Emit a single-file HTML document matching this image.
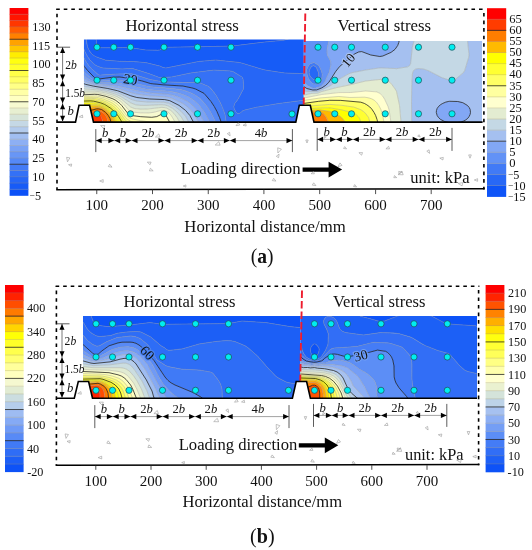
<!DOCTYPE html>
<html lang="en"><head><meta charset="utf-8"><title>Stress contours</title>
<style>html,body{margin:0;padding:0;background:#fff}svg{display:block}</style></head>
<body>
<svg width="532" height="550" viewBox="0 0 532 550">
<rect width="532" height="550" fill="#fff"/>
<filter id="soft" x="-2%" y="-5%" width="104%" height="110%"><feGaussianBlur stdDeviation="0.45"/></filter>
<clipPath id="clip_a"><path d="M83.8,39.4 L482.2,39.4 L482.2,122.3 L314,122.3 L310.3,105.3 L299.3,105.3 L295.8,122.3 L93.5,122.3 L89.6,105.3 L83.8,105.3Z"/></clipPath>
<g clip-path="url(#clip_a)" filter="url(#soft)">
<clipPath id="clip_aL"><rect x="83.8" y="38.4" width="220.0" height="84.9"/></clipPath>
<g clip-path="url(#clip_aL)">
<path d="M95.8 37.4l198.9 0l-10.9 2.8l-19 1.8l-33 4.1l-66 1.2l-2 0.4l-4 2.3l-2 0.2l-12-0.2l-16-2.5l-31 0.3l-1.3-0.4l-0.9-1l-0.3-6l-0.7-3z" fill="#0c51f7" stroke="#0c51f7" stroke-width="0.4" fill-rule="evenodd"/>
<path d="M86.8 37.4l8.8 0l0.7 3l0.3 6l0.9 1l1.3 0.4l31-0.3l16 2.5l12 0.2l2-0.2l4-2.3l2-0.4l66-1.2l33-4.1l19-1.8l10.9-2.8l11.1 0l0 36.3l-2 0l-19-0.7l-18-2.7l-3-0.6l-24-7.2l-24-2.5l-17 1.4l-33 6.6l-2.8-0.6l-3.2-1.4l-14-3.4l-12-1l-14-0.3l-14-1.1l-10-3.5l-2.2-1.3l-2.3-2l-2.5-3.7l-1.4-3.3l-1.4-9z" fill="#175bf7" stroke="#175bf7" stroke-width="0.4" fill-rule="evenodd"/>
<path d="M82.8 37.4l3.2 0l0.9 7l0.9 3l2 4l2 2.5l4 2.8l10 3.5l14 1.1l14 0.3l12 1l14 3.4l3.2 1.4l2.8 0.6l33-6.6l17-1.4l24 2.5l24 7.2l3 0.6l18 2.7l21 0.7l0 26.2l-27 3.6l-23.3 3.9l-11.7 2.9l-1 0.5l-2 1.9l-2 0.8l-2-0.6l-1-1.2l-1.7-3.3l-0.3-2l1-2.9l3.1-4.1l5.3-10l0.5-2l-0.6-8l-0.3-1.1l-1-1.4l-8-5l-3-0.9l-17-0.9l-23 2.8l-19 4l-11 0.8l-2-0.4l-10-3.7l-16-5l-3-0.2l-7 0.5l-5-0.1l-13-0.5l-3-0.5l-4-1.5l-3.4-1.9l-3.6-3.6l-3-3.8l-2.9-5.6l-2.4-6l-0.7-2.8l0-5.2z" fill="#2666f6" stroke="#2666f6" stroke-width="0.4" fill-rule="evenodd"/>
<path d="M82 43.4l1.1 4l2.3 5l2.4 4.6l2 2.7l5 5l4 2.1l4 1.2l18 0.9l9-0.5l3 0.2l16 5l10 3.7l2 0.4l11-0.8l19-4l23-2.8l16 0.8l3 0.5l8.4 5l1.1 1l0.8 2l0.6 8l-0.5 2l-5.3 10l-3.1 4.1l-1 2.9l0.3 2l1.7 3.3l1 1.2l1 0.5l2-0.1l3-2.5l1-0.5l12-3l23-3.8l27-3.6l0 23.5l-78.8 0l-0.9-2l-1.1-7l-4.3-11l-4.9-8.7l-4.9-6.3l-2.1-1.8l-10-4.1l-22-0.2l-13-0.4l-3-0.4l-10.8-2.1l-18.2-5.6l-16 0.3l-15 1l-2-0.2l-1-0.6l-6-5.5l-3.1-3.4l-2.1-3l-4.8-8.3l0-11.5z" fill="#3471f6" stroke="#3471f6" stroke-width="0.4" fill-rule="evenodd"/>
<path d="M82 54.4l4.6 8l2.1 3l3.1 3.4l6 5.5l1 0.6l2 0.2l15-1l16-0.3l18.2 5.6l12.8 2.4l20 0.7l16 0l9 3.6l2 1.2l5.8 7.1l1.9 3l3.7 7l2.1 5l2 6l0.8 6l0.9 2l-5.4 0l-2.1-6l-2.7-6.2l-2.6-4.8l-3.3-5l-6.8-8l-7.6-4l-2.7-1.1l-11-2.3l-19-1.1l-13-1.3l-9-2.7l-9-2.1l-13-1.8l-7 0.2l-13 1.7l-3 0l-1.2-0.5l-2.4-2l-6.6-7l-3.1-4l-1.7-3l0-8.3z" fill="#437bf6" stroke="#437bf6" stroke-width="0.4" fill-rule="evenodd"/>
<path d="M81.8 62.4l2.4 4l3.3 4l6.8 7l2.5 1.5l3 0l13-1.7l7-0.2l13 1.8l9 2.1l9 2.7l13 1.3l19 1.1l12 2.6l8 4l2 1.5l6.1 7.3l5 8l3.6 8l2.1 6l-5.3 0l-5.4-11l-5.4-8l-5.7-6.1l-4-2.8l-4-2.3l-6-2.3l-5-1.3l-11-1.3l-20-1.5l-30-6.7l-7-0.1l-13 1l-4-0.4l-2.6-1.2l-4-3l-4.5-4l-2.9-3.1l0-6.9z" fill="#5589f6" stroke="#5589f6" stroke-width="0.4" fill-rule="evenodd"/>
<path d="M81.9 69.4l7.3 7l4 3l2.6 1.2l4 0.4l13-1l7 0.1l30 6.7l21 1.6l11 1.4l8 2.6l5 2.4l5.1 3.6l4.8 5l3.1 4l3 4.9l5.5 11.1l-5.8 0l-6-11l-5.7-7.6l-3-2.9l-3.3-2.5l-3.7-2.3l-4-1.9l-5-1.8l-6-1.4l-7-1l-19-1.4l-29-6.5l-6-0.4l-13 0l-4-0.5l-2.3-0.8l-3.9-2l-4.6-3l-3.2-2.5l0-4.6z" fill="#6896f6" stroke="#6896f6" stroke-width="0.4" fill-rule="evenodd"/>
<path d="M82.4 74.4l7.2 5l3.9 2l3.3 1l4 0.3l13 0l5 0.4l29 6.5l20 1.5l10 1.8l5 1.5l5 2.2l4 2.3l4 3l3.5 3.5l3.9 5l3.6 5.9l3.7 7.1l-5.6 0l-6.4-11l-4.7-5.7l-6-4.9l-8-4.2l-6-2.1l-5-1.1l-18-1.4l-12-1.9l-21-5.2l-22-2.2l-8-3l-6-3.3l0-3.5z" fill="#7aa2f5" stroke="#7aa2f5" stroke-width="0.4" fill-rule="evenodd"/>
<path d="M81.8 77.4l7.5 4l4.5 1.7l3 0.8l13 1l8 1l17 4.4l12 2.2l6 0.7l13 0.8l5 0.8l5 1.4l5 1.9l4 1.9l3.9 2.4l4.8 4l3.5 4l3.4 5l4.5 8l-5.5 0l-5.8-10l-4.3-5l-6.7-5l-9.8-4.7l-4-1.3l-3-0.5l-15-0.9l-13-1.7l-6-1.4l-13-4.2l-10-1.9l-14-1.9l-8.2-2.5l-4.8-2.1l0-2.9z" fill="#8daff4" stroke="#8daff4" stroke-width="0.4" fill-rule="evenodd"/>
<path d="M81.9 80.4l4.7 2l8.2 2.5l14 1.9l10 1.9l12 3.9l6 1.5l13 1.8l15 0.9l4 0.6l5 1.7l7 3.3l4 2.4l4 3.1l3 3.1l2.5 3.4l5.1 9l-5.2 0l-4.4-8l-4.3-5l-6.5-5l-9.2-4.7l-4-1l-16-0.7l-14-1.7l-5-1.5l-13-5l-9-2.1l-14-2.3l-10-2.3l-3-1.1l0-2.7z" fill="#a1bef1" stroke="#a1bef1" stroke-width="0.4" fill-rule="evenodd"/>
<path d="M82.7 83.4l11.1 2.8l14 2.3l10 2.3l13 5l6 1.7l13 1.5l16 0.7l5 1.4l10 5.5l4 3.1l3.6 3.7l2.1 3l3.7 7l-4.7 0l-3.9-7l-4.4-5l-5.4-4.3l-7-3.8l-5-1.1l-16-0.2l-8-0.5l-4-0.6l-4-1.3l-11-5.5l-5-1.8l-10-2.5l-19-2.9l-4-1l-1-0.3l0-2.6z" fill="#b3cbec" stroke="#b3cbec" stroke-width="0.4" fill-rule="evenodd"/>
<path d="M82.8 85.9l4 1l19 2.9l10 2.5l5 1.8l11 5.5l5 1.5l11 0.9l16 0.2l4 0.8l4 1.7l5 3.1l4 3.2l3.2 3.4l2.8 3.9l2.7 5.1l-4.5 0l-3.5-6l-4.1-5l-4.7-4l-4.9-2.6l-5-1l-18 0.6l-6-0.2l-4-0.7l-4-1.6l-9-5.9l-6-2.8l-8-2.4l-6-1.2l-6-0.9l-12-1.1l-2-0.5l0-2.5z" fill="#c5d8e5" stroke="#c5d8e5" stroke-width="0.4" fill-rule="evenodd"/>
<path d="M82.8 88.4l3 0.6l9 0.6l5.9 0.8l6.1 1.2l6.4 1.8l6.6 2.5l11 7l5 1.9l4 0.5l6 0.1l16-0.7l5 0.7l4 1.8l3.2 2.2l3.4 3l2.7 3l2.7 4l2.2 4l-4.5 0l-3.5-6l-3.1-4l-3.2-3l-3.9-2.2l-2-0.6l-3-0.2l-15 1.7l-8-0.1l-5-0.7l-2-0.7l-2-1.2l-5.6-5l-3.4-2.5l-6-3.1l-8-2.6l-8-1.6l-15-0.7l-2-0.5l0-2.3z" fill="#d6e4d9" stroke="#d6e4d9" stroke-width="0.4" fill-rule="evenodd"/>
<path d="M81.9 90.4l3.9 0.8l9 0l4 0.4l8 1.6l7 2.2l4 1.7l3.8 2.3l9.2 7.7l4 1.5l5 0.4l6 0.1l6-0.4l9-1.3l5 0.5l3 1.2l3.1 2.3l2.9 3l2.8 4l2.9 5l-4.8 0l-3.3-6l-2-3l-1.9-2l-2.7-1.6l-2-0.5l-2-0.1l-8 2.1l-5 0.6l-8-0.1l-9-0.9l-3-1.8l-5.9-6.7l-2.1-1.9l-3-2.2l-3.6-1.9l-7.4-2.5l-8-1.8l-4-0.3l-8 0.3l-3-0.2l-2-0.5l0-2z" fill="#e7efd1" stroke="#e7efd1" stroke-width="0.4" fill-rule="evenodd"/>
<path d="M82.8 92.7l3 0.4l9-0.3l4 0.3l7 1.5l8 2.6l3 1.5l3.9 2.7l2.2 2l5.9 6.7l2 1.5l2 0.6l8 0.6l7 0.1l6-0.6l8-2.1l3 0.2l2 0.8l2 1.5l2.3 2.7l4.6 8l-5.4 0l-4.3-8l-1.2-1.2l-1-0.4l-2 0.3l-5 2.5l-5 0.7l-11-0.6l-10-1.3l-2-1l-1-1l-6-7.8l-2-2.1l-6-4.3l-8-2.9l-8-1.8l-3-0.2l-9 0.4l-3-0.3l-1-0.2l0-1.8z" fill="#f7fad0" stroke="#f7fad0" stroke-width="0.4" fill-rule="evenodd"/>
<path d="M82.8 94.4l3 0.3l9-0.4l3 0.2l8 1.8l8 2.9l6 4.3l2 2.1l6 7.8l1 1l2 1l10 1.3l11 0.6l5.5-0.9l5.5-2.6l1 0l1 0.4l1.9 2.2l3.6 7l-8.8 0l-2.7-0.7l-9-0.7l-9-1.3l-8-1.7l-3-1l-2-1.3l-2-2.1l-7-9.1l-3.8-3.1l-3.2-1.9l-6-2.4l-6-1.7l-5-0.6l-12 0l-1-0.1l0-1.5z" fill="#ffffc2" stroke="#ffffc2" stroke-width="0.4" fill-rule="evenodd"/>
<path d="M82.8 95.8l14 0.1l9 2.2l7 2.9l4 2.7l3 2.9l7 9.2l3 2.2l3 1l8 1.7l9 1.3l9 0.7l2.7 0.7l-25.3 0l-5.4-2l-3-1.8l-3-3.1l-7-9l-3-2.7l-4-2.5l-6-2.8l-6-1.7l-5-0.7l-12-0.1l0-1.3z" fill="#ffffa7" stroke="#ffffa7" stroke-width="0.4" fill-rule="evenodd"/>
<path d="M82.8 97.1l11 0l4 0.5l7 1.9l7 3.3l3 2l3 2.7l9 11.2l4 2.7l5.4 2l-7.1 0l-4.3-3.8l-5-7l-3-3.4l-3.2-2.8l-3.8-2.5l-6-3l-6-1.8l-5-0.7l-11-0.1l0-1.3z" fill="#ffff87" stroke="#ffff87" stroke-width="0.4" fill-rule="evenodd"/>
<path d="M82.8 98.4l9.7 0l4.3 0.5l7 2l7 3.6l3 2l3.2 2.9l2.8 3.2l5 7l4.3 3.8l-3.7 0l-2.6-3.2l-3.7-5.8l-2.6-3l-4.7-4.2l-6-3.6l-4-1.8l-7-1.8l-4-0.4l-9 0.1l0-1.4z" fill="#ffff65" stroke="#ffff65" stroke-width="0.4" fill-rule="evenodd"/>
<path d="M82.8 99.7l8-0.1l4 0.4l7 1.8l3.7 1.6l6.3 3.8l4.7 4.2l2.6 3l3.7 5.8l2.6 3.2l-2.7 0l-4.2-7l-2.7-3.4l-4.9-4.6l-6.1-3.9l-4-1.6l-7-1.7l-3-0.3l-9 0.2l0-1.4z" fill="#ffff48" stroke="#ffff48" stroke-width="0.4" fill-rule="evenodd"/>
<path d="M82.8 101l8-0.1l3 0.3l7 1.7l4 1.6l6.1 3.9l4.9 4.6l2.7 3.4l4.2 7l-2.4 0l-3.1-6l-3-4l-4.2-4l-6.2-4l-3-1.2l-7-1.6l-4-0.2l-8 0.2l0-1.5z" fill="#ffff2c" stroke="#ffff2c" stroke-width="0.4" fill-rule="evenodd"/>
<path d="M84.8 102.4l6 0l4 0.4l6 1.4l4 1.7l5.2 3.5l4.2 4l3 4l3.1 6l-2.1 0l-2.9-6l-2.1-3l-3.9-4l-5.5-3.8l-4-1.5l-5-0.9l-13 0.1l0-1.7l2.9-0.2z" fill="#ffff10" stroke="#ffff10" stroke-width="0.4" fill-rule="evenodd"/>
<path d="M82.8 104.2l12 0l5 0.9l4 1.5l5.5 3.8l3.9 4l2.1 3l2.9 6l-2.2 0l-2.1-5l-2.6-4l-4-4l-4.4-3l-3.1-1.1l-4-0.6l-14 0.4l0-1.8z" fill="#ffed00" stroke="#ffed00" stroke-width="0.4" fill-rule="evenodd"/>
<path d="M82.8 106.1l13-0.4l4 0.6l3.1 1.1l4.4 3l4 4l2.6 4l2.1 5l-2.2 0l-1.8-5l-1.8-3l-3.4-3.8l-4-2.9l-3-1.1l-3-0.4l-7 0.9l-8 0.1l0-2.1z" fill="#ffc600" stroke="#ffc600" stroke-width="0.4" fill-rule="evenodd"/>
<path d="M94.8 107.3l3 0l4 0.9l2.3 1.2l2.5 2l2 2l2.3 3l1.5 3l1.4 4l-2.4 0l-1.5-5l-1.7-3l-2.6-3l-3.8-2.8l-3-0.7l-2-0.1l-6 1.6l-9 0l0-2.2l8-0.1l4.4-0.7z" fill="#ffa200" stroke="#ffa200" stroke-width="0.4" fill-rule="evenodd"/>
<path d="M94.8 109.2l2-0.4l3 0.3l3 1l1.6 1.3l3.1 3l1.9 3l2 6l-3 0l-0.9-4l-1.7-3.6l-3-3.4l-2-1.1l-3-0.4l-6 1.6l-10 0.3l0-2.4l9 0l3.4-1z" fill="#ff8000" stroke="#ff8000" stroke-width="0.4" fill-rule="evenodd"/>
<path d="M95.8 111.2l2-0.3l3 0.4l3.1 2.1l1.7 2l1.2 2.2l1.6 5.8l-4.8 0l-2.6-7l-1-1l-1.2-0.5l-17 0.6l0-2.7l9-0.2l4.5-1.2z" fill="#ff5b00" stroke="#ff5b00" stroke-width="0.4" fill-rule="evenodd"/>
<path d="M83.8 115.4l14-0.6l2 0.5l1 0.8l0.8 1.3l0.7 3l1.3 3l-8.1 0l-3.3-3l-2.4-1.2l-3-0.4l-5-0.1l0-3.2l1.7-0.1z" fill="#ff3700" stroke="#ff3700" stroke-width="0.4" fill-rule="evenodd"/>
<path d="M82.8 118.7l5 0.1l2.5 0.6l2.5 1.5l2.7 2.5l-9.8 0l-3.9-0.8l0-3.9z" fill="#ff1500" stroke="#ff1500" stroke-width="0.4" fill-rule="evenodd"/>
<path d="M82.8 122.8l2.9 0.6l-3.9 0l0-0.8z" fill="#fd0000" stroke="#fd0000" stroke-width="0.4" fill-rule="evenodd"/>
<path d="M95.6 37.4l0.7 3l0.3 6l0.9 1l1.3 0.4l31-0.3l16 2.5l12 0.2l2-0.2l4-2.3l2-0.4l66-1.2l33-4.1l19-1.8l10.9-2.8M86 37.4l1.4 9l1.4 3.3l2.5 3.7l2.3 2l2.2 1.3l10 3.5l14 1.1l14 0.3l12 1l14 3.4l3.2 1.4l2.8 0.6l33-6.6l17-1.4l24 2.5l24 7.2l3 0.6l18 2.7l21 0.7M81.8 42.6l1 3.8l2.1 5l2.9 5.6l2 2.7l5 5l4 2.1l4 1.2l18 0.9l9-0.5l3 0.2l16 5l10 3.7l2 0.4l11-0.8l19-4l23-2.8l16 0.8l3 0.5l8.4 5l1.1 1l0.8 2l0.6 8l-0.5 2l-5.3 10l-3.1 4.1l-1 2.9l0.3 2l1.7 3.3l1 1.2l1 0.5l2-0.1l3-2.5l1-0.5l12-3l23-3.8l27-3.6M81.8 54.1l4.8 8.3l2.1 3l3.1 3.4l6 5.5l1 0.6l2 0.2l15-1l16-0.3l18.2 5.6l11.8 2.3l21 0.8l15.1-0.1l2.9 0.7l7 3l3 2.2l4.8 6.1l4.6 8l2.3 5l2.5 7l1.1 7l0.9 2M81.8 69.3l4 4.1l4.7 4l3.3 2.3l3 1.1l4 0.2l13-1.1l6 0.2l20 4.2l9 2.3l30 2.7l5 1l6.1 2.1l4.1 2l4.7 3l3.1 2.7l2.9 3.3l3.1 4l3 4.9l5.5 11.1M81.8 73.9l3.2 2.5l4.6 3l3.9 2l3.3 1l4 0.3l13 0l5 0.4l28 6.3l5 0.7l19 1.4l7 1.4l6 1.9l4 1.8l4 2.3l4 3l3 2.9l5.7 7.6l6 11M81.8 77.4l6 3.3l8 3l22 2.2l15 3.9l7.4 1.6l10.6 1.6l17 1.2l5 1l5 1.7l5 2.1l4 2.2l3.3 2.2l3.4 3l5 6l6.4 11M81.8 80.3l4.8 2.1l8.2 2.5l14 1.9l10 1.9l12 3.9l6 1.5l14 1.9l15 0.9l6.3 1.5l9.7 4.5l3.8 2.5l3.2 2.5l4.8 5.5l5.8 10M81.8 85.6l4 1.1l20 3.1l10 2.5l5 1.8l11 5.5l5 1.5l11 0.9l16 0.2l5 1.1l7 3.8l5.4 4.3l4.4 5l3.9 7M81.8 88.1l4 0.9l9 0.6l6 0.8l6 1.2l6.4 1.8l6.6 2.5l11 7l5 1.9l4 0.5l6 0.1l16-0.7l3 0.3l3 0.8l4.9 2.6l4.7 4l4.1 5l3.5 6M81.8 90.4l4 0.8l9 0l4 0.4l8 1.6l7 2.2l4 1.7l3.8 2.3l9.2 7.7l4 1.5l6 0.5l7-0.1l14-1.6l3 0.2l2 0.6l3.9 2.2l3.2 3l3.1 4l3.5 6M81.8 92.4l4 0.7l9-0.3l4 0.3l7 1.5l8 2.6l3 1.5l3.9 2.7l2.2 2l5.9 6.7l2 1.5l2 0.6l8 0.6l8 0.1l5-0.6l7-1.9l4 0l3 1.5l2.6 2.5l2 3l3.3 6M81.8 95.7l3 0.3l12-0.1l9 2.2l7 2.9l4 2.7l3 2.9l7 9.2l3 2.2l3 1l8 1.7l9 1.3l9 0.7l2.7 0.7M81.8 97l15 0.4l7 1.8l5.2 2.2l3.8 2l4 3.1l3 3.3l5.7 7.6l2.3 2.2l3 1.8l5.4 2M81.8 98.3l10 0.1l4 0.3l7 1.8l4 1.8l5.5 3.1l3.5 2.9l4 4.3l5 7l4.3 3.8M81.8 99.7l12 0.1l7 1.7l4 1.5l7 4.2l4 3.5l3.3 3.7l3.7 5.8l2.6 3.2M81.8 102.6l8-0.2l4 0.2l7 1.6l3 1.2l6.2 4l4.2 4l3 4l3.1 6M81.8 104.3l13-0.1l5 0.9l4 1.5l5.5 3.8l3.9 4l2.1 3l2.9 6M81.8 106.1l14-0.4l4 0.6l3 1.1l4.5 3l4 4l2.6 4l2.1 5M81.8 108.2l8-0.1l7-0.9l3 0.4l3 1.1l4 2.9l3.4 3.8l1.8 3l1.8 5M81.8 112.8l10-0.3l6-1.6l3.3 0.5l2.7 1.9l2 2.5l1.7 3.6l0.9 4M81.8 115.5l17-0.6l1.2 0.5l1 1l2.6 7M81.8 118.7l5 0.1l3 0.4l2.4 1.2l3.3 3M81.8 122.6l3.9 0.8" fill="none" stroke="#9a9a9a" stroke-opacity="0.75" stroke-width="0.55"/>
<path d="M81.8 62.4l2.4 4l3.3 4l6.8 7l2.5 1.5l3 0l13-1.7l7-0.2l13 1.8l9 2.1l9 2.7l13 1.3l19 1.1l10 2.1l3 1l8.3 4.3l6.8 8l3.3 5l2.6 4.8l2.7 6.2l2.1 6M81.8 83l4 1.4l8 1.8l14 2.3l10 2.3l13 5l6 1.7l13 1.5l15 0.6l5 1.1l9.2 4.7l6.5 5l4.3 5l4.4 8M81.8 94.2l3 0.5l10-0.4l3 0.2l8 1.8l7 2.5l3 1.6l4 3.1l2 2.1l6 7.8l1 1l2 1l10 1.3l11 0.6l5-0.7l5-2.5l2-0.3l1 0.4l1.2 1.2l4.3 8M81.8 101.1l9-0.2l3 0.3l7 1.7l4 1.6l6.1 3.9l4.9 4.6l2.7 3.4l4.2 7M81.8 110.4l9 0l6-1.6l2 0.1l3 0.7l3.8 2.8l2.6 3l1.7 3l1.5 5" fill="none" stroke="#1a1a1a" stroke-width="0.75"/>
<text x="130.4" y="79" transform="rotate(8 130.4 79)" font-size="14.2" text-anchor="middle" font-family="'Liberation Serif', 'Times New Roman', serif" fill="#111" stroke="#5f93f5" stroke-width="2.4" paint-order="stroke" dominant-baseline="central">20</text>
</g>
<clipPath id="clip_aR"><rect x="303.8" y="41.1" width="178.39999999999998" height="82.19999999999999"/></clipPath>
<g clip-path="url(#clip_aR)">
<path d="M311.8 66.3l2-0.6l2 1.2l1.1 1.5l1.5 4l0.3 2l-0.2 3l-1.4 2l-1.3 0.6l-1-0.1l-2-0.8l-2-2l-1-1.7l-0.7-3l0.3-2l0.7-2l1.6-2z" fill="#2868f6" stroke="#2868f6" stroke-width="0.4" fill-rule="evenodd"/>
<path d="M310.8 63.4l3-0.7l1 0.2l3 1.8l1.6 1.7l2.2 5l0.6 3l-0.5 5l-0.9 2.2l-1.6 1.8l-2.4 0.7l-3-0.1l-1.1-0.6l-2.9-2.8l-1.4-2.2l-1.3-4l-0.4-5l1.4-3l1.4-2l1.2-1zM311.7 66.4l-1.6 2l-0.7 2l-0.3 2l0.7 3l1 1.7l2 2l2 0.8l1 0.1l1.3-0.6l1.4-2l0.2-3l-0.3-2l-1.5-4l-1.1-1.5l-2-1.2l-2 0.6z" fill="#417af6" stroke="#417af6" stroke-width="0.4" fill-rule="evenodd"/>
<path d="M302.8 37.4l26.6 0l-2.2 11l-0.3 4l0.6 3l2.3 4l1 3l0.1 2l-1.3 7l-4.5 10l-2.9 4l-1.4 1.1l-5 1.6l-2 0.3l-2.8-1l-3.2-1.7l-3.4-3.3l-0.9-2l-0.3-6l-1.4-7.3l0-29.7zM310.7 63.4l-1.2 1l-1.4 2l-1.4 3l0.4 5l1.3 4l1.4 2.2l2.9 2.8l1.1 0.6l3 0.1l2.4-0.7l1.6-1.8l0.9-2.2l0.5-5l-0.6-3l-2.2-5l-1.6-1.7l-3-1.8l-1-0.2l-3 0.7z" fill="#6292f6" stroke="#6292f6" stroke-width="0.4" fill-rule="evenodd"/>
<path d="M329.8 37.4l70 0l-1.3 6l-1.7 3.8l-3 3.3l-3 2l-9 3.9l-2.5 0l-9.5-1.6l-8-3.2l-3 0.3l-3 1.3l-4 2.9l-12 10.2l-4 5l-6.3 10.1l-2.6 3l-2.5 2l-2.6 1.5l-4 1.7l-3 0.5l-2-0.1l-6-1.5l-5-3.3l0-18.1l1.4 7.3l0.6 7l3.6 4l1.4 1l5 2l2-0.3l5-1.6l1.4-1.1l2.9-4l2.5-6l1.6-3l1.7-8l-0.3-3l-3.1-6l-0.6-3l0.3-4l2.2-11zM448.8 101.4l9 0.1l4 0.8l5 2.6l1.6 1.5l1.3 2l0.8 3l-0.1 2l-0.6 2l-1.2 2l-1.8 1.8l-1.8 1.2l-2.3 1l-2.9 0.8l-10 0.2l-5-0.8l-4.3-2.2l-2.1-2l-1.3-2l-0.8-3l0.2-2l0.7-2l1.4-2l2.2-1.9l2-1.1l3-1.3l2.8-0.7z" fill="#82a7f5" stroke="#82a7f5" stroke-width="0.4" fill-rule="evenodd"/>
<path d="M399.8 37.4l15.1 0l-2.6 10l-1.5 15.3l-1 2.6l-1 1l-2 0.8l-10 1.5l-17-0.7l-14 2.1l-15 3l-3 1.3l-8 4.5l-10.6 7.6l-11.4 5.1l-1 0.1l-11-0.2l-3.6-1l-0.4-0.2l0-5l5 3.3l6 1.5l4-0.1l5-2l3.9-2.5l3.1-3l7-11.1l4-5l15-12.5l4-1.9l3-0.3l9 3.4l9 1.5l3-0.5l8.2-3.6l4-3l2.8-4.1l1-2.9l1-5zM466.8 37.4l17 0l0 86l-71.6 0l-0.3-1l-0.4-20l0.3-18l0.6-10l0.4-2.1l0.9-1.9l2.1-1.4l2-0.4l3 0.1l3 0.4l5 1.8l13 6.7l9 3l2 0.3l1.4-0.5l9.6-8.2l0.9-1.8l4-13l0.3-2l-0.1-2l-1.3-12l-0.9-4zM448.6 101.4l-2.8 0.7l-3 1.3l-2 1.1l-2.2 1.9l-1.4 2l-0.7 2l-0.2 2l0.8 3l1.3 2l2.1 2l4.3 2.2l5 0.8l10-0.2l2.9-0.8l2.3-1l1.8-1.2l1.8-1.8l1.2-2l0.6-2l0.1-2l-0.8-3l-1.3-2l-1.6-1.5l-5-2.6l-4-0.8l-9-0.1z" fill="#a5c0f0" stroke="#a5c0f0" stroke-width="0.4" fill-rule="evenodd"/>
<path d="M414.8 37.6l51.9-0.2l1 5l1.3 13l-0.3 2l-3.9 12.7l-1 2.1l-2 1.9l-3.2 2.3l-2.9 3l-1.5 1l-1.4 0.5l-2-0.3l-9-3l-13-6.7l-4-1.5l-4-0.7l-3-0.1l-2 0.4l-2 1.3l-0.7 1.1l-0.7 3l-0.6 10l-0.3 17l0.1 19l0.6 3l-11.1 0l-1.6-18l-3-14l-1.1-2l-4.6-6.3l-2-1.5l-3-1.3l-5-0.9l-15 1.6l-17 4.1l-13 2.7l-15 4l-3 1.4l-5.9 0.2l-7.1 1.5l-3-0.2l0-4.5l4 1.2l12 0.1l12-5.4l10-7.3l9-5l3-1.1l14-2.7l14-2.1l17 0.7l11-1.8l2-1.4l0.8-2l1.5-15l2.4-10z" fill="#c4d8e5" stroke="#c4d8e5" stroke-width="0.4" fill-rule="evenodd"/>
<path d="M371.8 80.4l9-1l3 0.4l3 0.9l2 0.9l2 1.5l4.6 6.3l1.5 3l2.5 12l1.7 19l-10 0l-1.9-13l-1.2-4l-3.3-7l-1.9-3.2l-2.9-2.8l-3.1-1.5l-11-0.9l-15 1.5l-12 0.1l-17 1.9l-16 3.2l-4 0.2l0-3.2l3 0.2l7.1-1.5l5.9-0.2l3-1.4l15-4l14-3l15-3.6l6.6-0.8z" fill="#e3ecd1" stroke="#e3ecd1" stroke-width="0.4" fill-rule="evenodd"/>
<path d="M361.8 91.3l5-0.3l9 0.7l3 1l3.4 2.7l2.5 4l4 9l2.4 15l-6.9 0l-1.9-10l-1.5-4l-2-3.9l-2-2.8l-2.3-2.3l-2.7-1.5l-3-1l-4-0.7l-15 0.3l-11-1l-18 1.4l-19 2.8l0-2.8l4-0.2l16-3.2l17-1.9l11-0.1l11.3-1.1z" fill="#ffffcf" stroke="#ffffcf" stroke-width="0.4" fill-rule="evenodd"/>
<path d="M328.8 97.3l11-0.8l10 1l15-0.3l4 0.7l4 1.4l2 1.4l2 2l3.6 5.7l2.1 6l1.7 9l-6.2 0l-1-4l-1.4-4l-1.6-3l-2.2-3.3l-2-2.1l-3-2.2l-2.5-1.4l-3.5-1.2l-20-1.8l-11-0.1l-11 1l-17 2.4l0-3l19-2.8l7-0.5z" fill="#ffffa0" stroke="#ffffa0" stroke-width="0.4" fill-rule="evenodd"/>
<path d="M329.8 100.3l10 0l19 1.5l2.8 0.6l2.7 1l4.8 3l3.7 4.1l3 5.5l2.2 7.4l-7.7 0l-1.8-6l-1.7-2.7l-2-2.1l-2-1.6l-2.7-1.6l-7.3-2.5l-11-1.6l-12-0.9l-28 2.3l0-3l17-2.4l10.5-0.9z" fill="#ffff64" stroke="#ffff64" stroke-width="0.4" fill-rule="evenodd"/>
<path d="M317.8 105.4l13-1l12 1.1l9 1.2l4 1l6 2.6l4 3.3l2.7 3.8l1.8 6l-8.9 0l-1.9-5l-1.4-2l-2.1-2l-5.2-2.2l-11-2.7l-12-1.7l-16 0.6l-10 1.3l0-3l15.7-1.3z" fill="#ffff32" stroke="#ffff32" stroke-width="0.4" fill-rule="evenodd"/>
<path d="M311.8 108.4l18-0.5l10 1.6l11 2.7l4 1.6l2.4 1.6l2.3 3l1.9 5l-15.2 0l-3.7-5l-2.3-2l-3.4-2l-7-3.1l-9-1.2l-9 0.1l-5 1l-5 1.6l0-3.1l9.6-1.3z" fill="#ffff00" stroke="#ffff00" stroke-width="0.4" fill-rule="evenodd"/>
<path d="M310.8 110.3l10-0.2l10 1.5l6 2.8l3.4 2l2.3 2l3.7 5l-17.2 0l-2.2-5l-1.9-3l-1.9-2l-2.2-1.1l-5 0.1l-4-0.3l-1.8 0.3l-2.5 1l-5.7 3.5l0-4.1l8.5-2.4z" fill="#ffba00" stroke="#ffba00" stroke-width="0.4" fill-rule="evenodd"/>
<path d="M310.8 112.2l10 0.1l2.2 1.1l1.1 1l2.1 3l2.8 6l-27.2 0l0-6.5l5.7-3.5l2.5-1z" fill="#ff7d00" stroke="#ff7d00" stroke-width="0.4" fill-rule="evenodd"/>
<path d="M311.8 66.3l-1.1 1.1l-1.3 3l-0.3 2l0.7 3l1 1.7l2 2l2 0.8l2-0.3l1-0.8l0.7-1.4l0.2-3l-0.3-2l-2.1-5l-1.5-1.3l-1-0.4l-1 0.1zM310.8 63.4l-1.3 1l-1.4 2l-1.4 3l0.4 5l1.3 4l1.4 2.2l2.9 2.8l1.1 0.6l3 0.1l2-0.5l2-2l0.9-2.2l0.5-5l-0.2-2l-2.1-5l-1.3-2l-3.8-2.5l-1-0.2l-2 0.2zM301.8 67.1l1.4 7.3l0.6 7l3.6 4l1.4 1l5 2l2-0.3l5-1.6l1.4-1.1l2.9-4l2.5-6l1.6-3l1.7-8l-0.3-3l-3.1-6l-0.6-3l0.3-4l2.2-11M466.7 37.4l0.9 4l1.3 12l0.1 2l-0.3 2l-4 13l-0.9 1.8l-9.6 8.2l-1.4 0.5l-2-0.3l-9-3l-13-6.7l-5-1.8l-3-0.4l-3-0.1l-2 0.4l-2.1 1.4l-0.9 1.9l-0.4 2.1l-0.6 10l-0.3 17l0.1 19l0.6 3M301.8 90.2l4 1.2l12 0.1l12-5.4l10-7.3l9-5l3-1.1l14-2.7l14-2.1l17 0.7l11-1.8l2-1.4l0.8-2l1.7-16l2.6-10M301.8 94.7l3 0.2l7.1-1.5l5.9-0.2l3-1.4l15-4l13-2.7l17-4.1l15-1.6l5 0.9l3 1.3l2 1.5l4.6 6.3l1.1 2l3 14l1.6 18M301.8 97.9l4-0.2l16-3.2l17-1.9l12-0.1l15-1.5l11 0.9l3.1 1.5l2.9 2.8l1.9 3.2l3.3 7l1.2 4l1.9 13M301.8 100.7l19-2.8l18-1.4l11 1l15-0.3l4 0.7l3 1l2.7 1.5l2.3 2.3l2 2.8l2 3.9l1.5 4l1.9 10M301.8 106.7l28-2.3l12 0.9l12 1.8l7 2.6l2.6 1.7l2.2 2l2.9 4l1.8 6M301.8 109.7l10-1.3l16-0.6l3 0.2l10 1.7l10 2.5l5.2 2.2l2.1 2l1.4 2l1.9 5M301.8 112.8l5-1.6l5-1l9-0.1l9 1.2l7 3.1l3.4 2l2.3 2l3.7 5M301.8 116.9l5.7-3.5l2.5-1l1.8-0.3l4 0.3l5-0.1l2.2 1.1l1.9 2l1.9 3l2.2 5" fill="none" stroke="#9a9a9a" stroke-opacity="0.75" stroke-width="0.55"/>
<path d="M301.8 85.2l5 3.3l6 1.5l4-0.1l5-2l3.9-2.5l3.1-3l7-11.1l4-5l15-12.5l4-1.9l3-0.3l9 3.4l9 1.5l3-0.5l8.2-3.6l4-3l2.8-4.1l1-2.9l1-5M448.8 101.4l-3 0.7l-3 1.3l-2 1.1l-2.2 1.9l-1.4 2l-0.7 2l-0.2 2l0.8 3l1.3 2l2.1 2l4.3 2.2l4 0.8l9 0l3-0.4l3-1l2-1.1l2-1.6l1.4-1.9l0.9-2l0.4-2l-0.4-3l-1-2l-1.7-2l-4.6-2.7l-5-1.2l-8-0.2zM301.8 103.7l17-2.4l11-1l11 0.1l20 1.8l3.5 1.2l2.5 1.4l3 2.2l2 2.1l2.2 3.3l1.6 3l1.4 4l1 4" fill="none" stroke="#1a1a1a" stroke-width="0.75"/>
<text x="348.2" y="60.2" transform="rotate(-50 348.2 60.2)" font-size="13.2" text-anchor="middle" font-family="'Liberation Serif', 'Times New Roman', serif" fill="#111" stroke="#a8c2f2" stroke-width="2.4" paint-order="stroke" dominant-baseline="central">10</text>
</g>
</g>
<line x1="305.3" y1="13.6" x2="303.7" y2="104.6" stroke="#ee1c2e" stroke-width="1.9" stroke-dasharray="7.5 3"/>
<path d="M57,122.1 L75.5,122.1 L79,105.3 L89.6,105.3 L93.5,122.1 L295.8,122.1 L299.3,105.3 L310.3,105.3 L314,122.1 L482.6,122.1" fill="none" stroke="#000" stroke-width="1.6" stroke-linejoin="miter"/>
<circle cx="97" cy="47.2" r="3.1" fill="#00eef0" stroke="#1f4a55" stroke-width="0.7"/>
<circle cx="113.75" cy="47.2" r="3.1" fill="#00eef0" stroke="#1f4a55" stroke-width="0.7"/>
<circle cx="130.5" cy="47.2" r="3.1" fill="#00eef0" stroke="#1f4a55" stroke-width="0.7"/>
<circle cx="164" cy="47.2" r="3.1" fill="#00eef0" stroke="#1f4a55" stroke-width="0.7"/>
<circle cx="197.5" cy="47.2" r="3.1" fill="#00eef0" stroke="#1f4a55" stroke-width="0.7"/>
<circle cx="231" cy="47.2" r="3.1" fill="#00eef0" stroke="#1f4a55" stroke-width="0.7"/>
<circle cx="318" cy="47.2" r="3.1" fill="#00eef0" stroke="#1f4a55" stroke-width="0.7"/>
<circle cx="334.75" cy="47.2" r="3.1" fill="#00eef0" stroke="#1f4a55" stroke-width="0.7"/>
<circle cx="351.5" cy="47.2" r="3.1" fill="#00eef0" stroke="#1f4a55" stroke-width="0.7"/>
<circle cx="385.25" cy="47.2" r="3.1" fill="#00eef0" stroke="#1f4a55" stroke-width="0.7"/>
<circle cx="418.5" cy="47.2" r="3.1" fill="#00eef0" stroke="#1f4a55" stroke-width="0.7"/>
<circle cx="452" cy="47.2" r="3.1" fill="#00eef0" stroke="#1f4a55" stroke-width="0.7"/>
<circle cx="97" cy="80.2" r="3.1" fill="#00eef0" stroke="#1f4a55" stroke-width="0.7"/>
<circle cx="113.75" cy="80.2" r="3.1" fill="#00eef0" stroke="#1f4a55" stroke-width="0.7"/>
<circle cx="130.5" cy="80.2" r="3.1" fill="#00eef0" stroke="#1f4a55" stroke-width="0.7"/>
<circle cx="164" cy="80.2" r="3.1" fill="#00eef0" stroke="#1f4a55" stroke-width="0.7"/>
<circle cx="197.5" cy="80.2" r="3.1" fill="#00eef0" stroke="#1f4a55" stroke-width="0.7"/>
<circle cx="231" cy="80.2" r="3.1" fill="#00eef0" stroke="#1f4a55" stroke-width="0.7"/>
<circle cx="318" cy="80.2" r="3.1" fill="#00eef0" stroke="#1f4a55" stroke-width="0.7"/>
<circle cx="334.75" cy="80.2" r="3.1" fill="#00eef0" stroke="#1f4a55" stroke-width="0.7"/>
<circle cx="351.5" cy="80.2" r="3.1" fill="#00eef0" stroke="#1f4a55" stroke-width="0.7"/>
<circle cx="385.25" cy="80.2" r="3.1" fill="#00eef0" stroke="#1f4a55" stroke-width="0.7"/>
<circle cx="418.5" cy="80.2" r="3.1" fill="#00eef0" stroke="#1f4a55" stroke-width="0.7"/>
<circle cx="452" cy="80.2" r="3.1" fill="#00eef0" stroke="#1f4a55" stroke-width="0.7"/>
<circle cx="97" cy="113.8" r="3.1" fill="#00eef0" stroke="#1f4a55" stroke-width="0.7"/>
<circle cx="113.75" cy="113.8" r="3.1" fill="#00eef0" stroke="#1f4a55" stroke-width="0.7"/>
<circle cx="130.5" cy="113.8" r="3.1" fill="#00eef0" stroke="#1f4a55" stroke-width="0.7"/>
<circle cx="164" cy="113.8" r="3.1" fill="#00eef0" stroke="#1f4a55" stroke-width="0.7"/>
<circle cx="197.5" cy="113.8" r="3.1" fill="#00eef0" stroke="#1f4a55" stroke-width="0.7"/>
<circle cx="231" cy="113.8" r="3.1" fill="#00eef0" stroke="#1f4a55" stroke-width="0.7"/>
<circle cx="318" cy="113.8" r="3.1" fill="#00eef0" stroke="#1f4a55" stroke-width="0.7"/>
<circle cx="334.75" cy="113.8" r="3.1" fill="#00eef0" stroke="#1f4a55" stroke-width="0.7"/>
<circle cx="351.5" cy="113.8" r="3.1" fill="#00eef0" stroke="#1f4a55" stroke-width="0.7"/>
<circle cx="385.25" cy="113.8" r="3.1" fill="#00eef0" stroke="#1f4a55" stroke-width="0.7"/>
<circle cx="418.5" cy="113.8" r="3.1" fill="#00eef0" stroke="#1f4a55" stroke-width="0.7"/>
<circle cx="452" cy="113.8" r="3.1" fill="#00eef0" stroke="#1f4a55" stroke-width="0.7"/>
<circle cx="292" cy="114" r="3.1" fill="#00eef0" stroke="#1f4a55" stroke-width="0.7"/>
<line x1="56.2" y1="9.3" x2="484.7" y2="9.3" stroke="#000" stroke-width="1.6" stroke-dasharray="3.6 3.95"/>
<line x1="57" y1="9.3" x2="57" y2="189.5" stroke="#000" stroke-width="1.6" stroke-dasharray="3.6 3.95" stroke-dashoffset="3.15"/>
<line x1="483.9" y1="9.3" x2="483.9" y2="189.5" stroke="#000" stroke-width="1.6" stroke-dasharray="3.6 3.95" stroke-dashoffset="3.85"/>
<line x1="56.2" x2="484.7" y1="189.65" y2="188.75" stroke="#000" stroke-width="1.5"/>
<line x1="96.75" x2="96.75" y1="189.5" y2="194.1" stroke="#222" stroke-width="0.8"/>
<text x="96.75" y="209.9" font-size="15" text-anchor="middle" font-family="'Liberation Serif', 'Times New Roman', serif" fill="#111">100</text>
<line x1="152.5" x2="152.5" y1="189.5" y2="194.1" stroke="#222" stroke-width="0.8"/>
<text x="152.5" y="209.9" font-size="15" text-anchor="middle" font-family="'Liberation Serif', 'Times New Roman', serif" fill="#111">200</text>
<line x1="208.25" x2="208.25" y1="189.5" y2="194.1" stroke="#222" stroke-width="0.8"/>
<text x="208.25" y="209.9" font-size="15" text-anchor="middle" font-family="'Liberation Serif', 'Times New Roman', serif" fill="#111">300</text>
<line x1="263.9" x2="263.9" y1="189.5" y2="194.1" stroke="#222" stroke-width="0.8"/>
<text x="263.9" y="209.9" font-size="15" text-anchor="middle" font-family="'Liberation Serif', 'Times New Roman', serif" fill="#111">400</text>
<line x1="319.7" x2="319.7" y1="189.5" y2="194.1" stroke="#222" stroke-width="0.8"/>
<text x="319.7" y="209.9" font-size="15" text-anchor="middle" font-family="'Liberation Serif', 'Times New Roman', serif" fill="#111">500</text>
<line x1="375.6" x2="375.6" y1="189.5" y2="194.1" stroke="#222" stroke-width="0.8"/>
<text x="375.6" y="209.9" font-size="15" text-anchor="middle" font-family="'Liberation Serif', 'Times New Roman', serif" fill="#111">600</text>
<line x1="431.2" x2="431.2" y1="189.5" y2="194.1" stroke="#222" stroke-width="0.8"/>
<text x="431.2" y="209.9" font-size="15" text-anchor="middle" font-family="'Liberation Serif', 'Times New Roman', serif" fill="#111">700</text>
<text x="184.3" y="231.5" font-size="16.8" textLength="161.5" lengthAdjust="spacingAndGlyphs" font-family="'Liberation Serif', 'Times New Roman', serif" fill="#111">Horizontal distance/mm</text>
<text x="250.79999999999998" y="263.3" font-size="21.5" textLength="22.8" lengthAdjust="spacingAndGlyphs" font-family="'Liberation Serif', 'Times New Roman', serif" fill="#111">(<tspan font-weight="bold">a</tspan>)</text>
<text x="125.5" y="30.8" font-size="16.8" textLength="113.3" lengthAdjust="spacingAndGlyphs" font-family="'Liberation Serif', 'Times New Roman', serif" fill="#111">Horizontal stress</text>
<text x="337.5" y="30.8" font-size="16.8" textLength="93.5" lengthAdjust="spacingAndGlyphs" font-family="'Liberation Serif', 'Times New Roman', serif" fill="#111">Vertical stress</text>
<text x="180.7" y="173.8" font-size="16.8" textLength="120.0" lengthAdjust="spacingAndGlyphs" font-family="'Liberation Serif', 'Times New Roman', serif" fill="#111">Loading direction</text>
<text x="410.3" y="183.0" font-size="16.8" textLength="59.2" lengthAdjust="spacingAndGlyphs" font-family="'Liberation Serif', 'Times New Roman', serif" fill="#111">unit: kPa</text>
<path d="M302.6,167.50 L328.6,167.50 L328.6,161.70 L342.1,169.60 L328.6,177.50 L328.6,171.70 L302.6,171.70 Z" fill="#000"/>
<line x1="95.8" x2="292.4" y1="140.6" y2="140.6" stroke="#8a8a8a" stroke-width="0.8"/>
<line x1="95.8" x2="95.8" y1="129.1" y2="152.1" stroke="#333" stroke-width="0.8"/>
<line x1="292.4" x2="292.4" y1="129.1" y2="152.1" stroke="#333" stroke-width="0.8"/>
<path d="M95.90,140.60 L101.70,138.05 L101.70,143.15 Z" fill="#000"/>
<path d="M114.20,140.60 L108.40,138.05 L108.40,143.15 Z" fill="#000"/>
<text x="105.05" y="137.4" font-size="12.7" text-anchor="middle" font-family="'Liberation Serif', 'Times New Roman', serif" fill="#111"><tspan font-style="italic">b</tspan></text>
<path d="M114.40,140.60 L120.20,138.05 L120.20,143.15 Z" fill="#000"/>
<path d="M131.50,140.60 L125.70,138.05 L125.70,143.15 Z" fill="#000"/>
<text x="122.94999999999999" y="137.4" font-size="12.7" text-anchor="middle" font-family="'Liberation Serif', 'Times New Roman', serif" fill="#111"><tspan font-style="italic">b</tspan></text>
<path d="M131.70,140.60 L137.50,138.05 L137.50,143.15 Z" fill="#000"/>
<path d="M164.30,140.60 L158.50,138.05 L158.50,143.15 Z" fill="#000"/>
<text x="148.0" y="137.4" font-size="12.7" text-anchor="middle" font-family="'Liberation Serif', 'Times New Roman', serif" fill="#111">2<tspan font-style="italic">b</tspan></text>
<path d="M164.50,140.60 L170.30,138.05 L170.30,143.15 Z" fill="#000"/>
<path d="M197.50,140.60 L191.70,138.05 L191.70,143.15 Z" fill="#000"/>
<text x="181.0" y="137.4" font-size="12.7" text-anchor="middle" font-family="'Liberation Serif', 'Times New Roman', serif" fill="#111">2<tspan font-style="italic">b</tspan></text>
<path d="M197.70,140.60 L203.50,138.05 L203.50,143.15 Z" fill="#000"/>
<path d="M229.70,140.60 L223.90,138.05 L223.90,143.15 Z" fill="#000"/>
<text x="213.7" y="137.4" font-size="12.7" text-anchor="middle" font-family="'Liberation Serif', 'Times New Roman', serif" fill="#111">2<tspan font-style="italic">b</tspan></text>
<path d="M229.90,140.60 L235.70,138.05 L235.70,143.15 Z" fill="#000"/>
<path d="M292.30,140.60 L286.50,138.05 L286.50,143.15 Z" fill="#000"/>
<text x="261.1" y="137.4" font-size="12.7" text-anchor="middle" font-family="'Liberation Serif', 'Times New Roman', serif" fill="#111">4<tspan font-style="italic">b</tspan></text>
<line x1="317.2" x2="452" y1="139.4" y2="139.4" stroke="#8a8a8a" stroke-width="0.8"/>
<line x1="317.2" x2="317.2" y1="127.9" y2="150.9" stroke="#333" stroke-width="0.8"/>
<line x1="452" x2="452" y1="127.9" y2="150.9" stroke="#333" stroke-width="0.8"/>
<path d="M317.30,139.40 L323.10,136.85 L323.10,141.95 Z" fill="#000"/>
<path d="M335.90,139.40 L330.10,136.85 L330.10,141.95 Z" fill="#000"/>
<text x="326.6" y="136.20000000000002" font-size="12.7" text-anchor="middle" font-family="'Liberation Serif', 'Times New Roman', serif" fill="#111"><tspan font-style="italic">b</tspan></text>
<path d="M336.10,139.40 L341.90,136.85 L341.90,141.95 Z" fill="#000"/>
<path d="M352.90,139.40 L347.10,136.85 L347.10,141.95 Z" fill="#000"/>
<text x="344.5" y="136.20000000000002" font-size="12.7" text-anchor="middle" font-family="'Liberation Serif', 'Times New Roman', serif" fill="#111"><tspan font-style="italic">b</tspan></text>
<path d="M353.10,139.40 L358.90,136.85 L358.90,141.95 Z" fill="#000"/>
<path d="M385.50,139.40 L379.70,136.85 L379.70,141.95 Z" fill="#000"/>
<text x="369.3" y="136.20000000000002" font-size="12.7" text-anchor="middle" font-family="'Liberation Serif', 'Times New Roman', serif" fill="#111">2<tspan font-style="italic">b</tspan></text>
<path d="M385.70,139.40 L391.50,136.85 L391.50,141.95 Z" fill="#000"/>
<path d="M418.50,139.40 L412.70,136.85 L412.70,141.95 Z" fill="#000"/>
<text x="402.1" y="136.20000000000002" font-size="12.7" text-anchor="middle" font-family="'Liberation Serif', 'Times New Roman', serif" fill="#111">2<tspan font-style="italic">b</tspan></text>
<path d="M418.70,139.40 L424.50,136.85 L424.50,141.95 Z" fill="#000"/>
<path d="M451.90,139.40 L446.10,136.85 L446.10,141.95 Z" fill="#000"/>
<text x="435.3" y="136.20000000000002" font-size="12.7" text-anchor="middle" font-family="'Liberation Serif', 'Times New Roman', serif" fill="#111">2<tspan font-style="italic">b</tspan></text>
<line x1="62.6" x2="62.6" y1="47.2" y2="121.7" stroke="#555" stroke-width="0.8"/>
<line x1="57" x2="70.1" y1="47.2" y2="47.2" stroke="#333" stroke-width="0.8"/>
<path d="M62.60,47.30 L60.05,53.10 L65.15,53.10 Z" fill="#000"/>
<path d="M62.60,80.30 L60.05,74.50 L65.15,74.50 Z" fill="#000"/>
<path d="M62.60,80.50 L60.05,86.30 L65.15,86.30 Z" fill="#000"/>
<path d="M62.60,103.30 L60.05,97.50 L65.15,97.50 Z" fill="#000"/>
<path d="M62.60,103.50 L60.05,109.30 L65.15,109.30 Z" fill="#000"/>
<path d="M62.60,121.60 L60.05,115.80 L65.15,115.80 Z" fill="#000"/>
<text x="65.2" y="68.6" font-size="12.7" textLength="11.6" lengthAdjust="spacingAndGlyphs" font-family="'Liberation Serif', 'Times New Roman', serif" fill="#111">2<tspan font-style="italic">b</tspan></text>
<text x="65.2" y="96.6" font-size="12.7" textLength="19.8" lengthAdjust="spacingAndGlyphs" font-family="'Liberation Serif', 'Times New Roman', serif" fill="#111">1.5<tspan font-style="italic">b</tspan></text>
<text x="67.6" y="115" font-size="12.7" font-family="'Liberation Serif', 'Times New Roman', serif" fill="#111"><tspan font-style="italic">b</tspan></text>
<path d="M79.3,116.9 L82.4,115.0 L82.8,117.6Z" fill="none" stroke="#9a9a9a" stroke-width="0.6"/>
<path d="M100.6,125.6 L104.8,125.5 L103.7,128.5Z" fill="none" stroke="#9a9a9a" stroke-width="0.6"/>
<path d="M236.0,125.7 L238.3,122.7 L239.7,125.1Z" fill="none" stroke="#9a9a9a" stroke-width="0.6"/>
<path d="M67.5,161.8 L66.6,157.3 L69.9,157.9Z" fill="none" stroke="#9a9a9a" stroke-width="0.6"/>
<path d="M68.5,164.7 L71.7,164.0 L71.3,166.4Z" fill="none" stroke="#9a9a9a" stroke-width="0.6"/>
<path d="M112.0,167.2 L108.3,166.6 L109.7,164.2Z" fill="none" stroke="#9a9a9a" stroke-width="0.6"/>
<path d="M99.7,181.0 L103.2,179.6 L103.2,182.4Z" fill="none" stroke="#9a9a9a" stroke-width="0.6"/>
<path d="M147.3,162.2 L151.1,162.1 L150.1,164.7Z" fill="none" stroke="#9a9a9a" stroke-width="0.6"/>
<path d="M153.2,170.8 L149.4,170.9 L150.4,168.3Z" fill="none" stroke="#9a9a9a" stroke-width="0.6"/>
<path d="M155.4,137.0 L158.8,133.9 L159.9,137.1Z" fill="none" stroke="#9a9a9a" stroke-width="0.6"/>
<path d="M215.2,145.0 L218.8,141.7 L220.1,145.2Z" fill="none" stroke="#9a9a9a" stroke-width="0.6"/>
<path d="M230.1,135.9 L227.3,133.7 L229.6,132.3Z" fill="none" stroke="#9a9a9a" stroke-width="0.6"/>
<path d="M277.9,153.0 L277.7,147.8 L281.4,149.1Z" fill="none" stroke="#9a9a9a" stroke-width="0.6"/>
<path d="M279.1,154.1 L278.6,157.7 L276.3,156.3Z" fill="none" stroke="#9a9a9a" stroke-width="0.6"/>
<path d="M275.9,181.1 L272.3,180.6 L273.7,178.3Z" fill="none" stroke="#9a9a9a" stroke-width="0.6"/>
<path d="M183.2,186.0 L185.9,184.9 L185.9,187.1Z" fill="none" stroke="#9a9a9a" stroke-width="0.6"/>
<path d="M243.0,125.3 L245.8,123.6 L246.2,126.0Z" fill="none" stroke="#9a9a9a" stroke-width="0.6"/>
<path d="M261.7,133.6 L261.2,131.0 L263.1,131.4Z" fill="none" stroke="#9a9a9a" stroke-width="0.6"/>
<path d="M307.0,143.0 L305.8,140.0 L308.2,140.0Z" fill="none" stroke="#9a9a9a" stroke-width="0.6"/>
<path d="M346.6,148.9 L343.6,148.5 L344.7,146.6Z" fill="none" stroke="#9a9a9a" stroke-width="0.6"/>
<path d="M358.9,152.7 L362.5,152.6 L361.6,155.2Z" fill="none" stroke="#9a9a9a" stroke-width="0.6"/>
<path d="M338.0,166.7 L340.0,162.9 L342.0,165.4Z" fill="none" stroke="#9a9a9a" stroke-width="0.6"/>
<path d="M311.1,173.7 L313.5,171.5 L314.4,173.8Z" fill="none" stroke="#9a9a9a" stroke-width="0.6"/>
<path d="M315.9,185.6 L312.3,185.1 L313.7,182.8Z" fill="none" stroke="#9a9a9a" stroke-width="0.6"/>
<path d="M356.6,186.9 L353.6,186.5 L354.7,184.6Z" fill="none" stroke="#9a9a9a" stroke-width="0.6"/>
<path d="M385.9,148.8 L388.6,146.3 L389.5,148.9Z" fill="none" stroke="#9a9a9a" stroke-width="0.6"/>
<path d="M398.0,174.6 L401.9,171.1 L403.2,174.8Z" fill="none" stroke="#9a9a9a" stroke-width="0.6"/>
<path d="M396.7,177.6 L393.8,177.7 L394.5,175.6Z" fill="none" stroke="#9a9a9a" stroke-width="0.6"/>
<path d="M429.6,153.4 L426.8,151.2 L429.1,149.8Z" fill="none" stroke="#9a9a9a" stroke-width="0.6"/>
<path d="M439.8,158.1 L443.3,157.4 L442.9,160.0Z" fill="none" stroke="#9a9a9a" stroke-width="0.6"/>
<path d="M470.0,158.2 L468.7,154.9 L471.3,154.9Z" fill="none" stroke="#9a9a9a" stroke-width="0.6"/>
<path d="M402.2,172.1 L399.1,174.0 L398.7,171.4Z" fill="none" stroke="#9a9a9a" stroke-width="0.6"/>
<path d="M474.3,180.0 L477.6,178.7 L477.6,181.3Z" fill="none" stroke="#9a9a9a" stroke-width="0.6"/>
<path d="M458.2,183.5 L462.7,182.6 L462.1,185.9Z" fill="none" stroke="#9a9a9a" stroke-width="0.6"/>
<path d="M324.2,138.4 L324.6,135.8 L326.3,136.8Z" fill="none" stroke="#9a9a9a" stroke-width="0.6"/>
<path d="M420.2,137.0 L417.7,136.2 L419.0,134.7Z" fill="none" stroke="#9a9a9a" stroke-width="0.6"/>
<rect x="9.6" y="189.25" width="18.799999999999997" height="6.55" fill="#0c51f7"/>
<rect x="9.6" y="183.00" width="18.799999999999997" height="6.55" fill="#175bf7"/>
<rect x="9.6" y="176.75" width="18.799999999999997" height="6.55" fill="#2666f6"/>
<rect x="9.6" y="170.50" width="18.799999999999997" height="6.55" fill="#3471f6"/>
<rect x="9.6" y="164.25" width="18.799999999999997" height="6.55" fill="#437bf6"/>
<rect x="9.6" y="158.00" width="18.799999999999997" height="6.55" fill="#5589f6"/>
<rect x="9.6" y="151.75" width="18.799999999999997" height="6.55" fill="#6896f6"/>
<rect x="9.6" y="145.50" width="18.799999999999997" height="6.55" fill="#7aa2f5"/>
<rect x="9.6" y="139.25" width="18.799999999999997" height="6.55" fill="#8daff4"/>
<rect x="9.6" y="133.00" width="18.799999999999997" height="6.55" fill="#a1bef1"/>
<rect x="9.6" y="126.75" width="18.799999999999997" height="6.55" fill="#b3cbec"/>
<rect x="9.6" y="120.50" width="18.799999999999997" height="6.55" fill="#c5d8e5"/>
<rect x="9.6" y="114.25" width="18.799999999999997" height="6.55" fill="#d6e4d9"/>
<rect x="9.6" y="108.00" width="18.799999999999997" height="6.55" fill="#e7efd1"/>
<rect x="9.6" y="101.75" width="18.799999999999997" height="6.55" fill="#f7fad0"/>
<rect x="9.6" y="95.50" width="18.799999999999997" height="6.55" fill="#ffffc2"/>
<rect x="9.6" y="89.25" width="18.799999999999997" height="6.55" fill="#ffffa7"/>
<rect x="9.6" y="83.00" width="18.799999999999997" height="6.55" fill="#ffff87"/>
<rect x="9.6" y="76.75" width="18.799999999999997" height="6.55" fill="#ffff65"/>
<rect x="9.6" y="70.50" width="18.799999999999997" height="6.55" fill="#ffff48"/>
<rect x="9.6" y="64.25" width="18.799999999999997" height="6.55" fill="#ffff2c"/>
<rect x="9.6" y="58.00" width="18.799999999999997" height="6.55" fill="#ffff10"/>
<rect x="9.6" y="51.75" width="18.799999999999997" height="6.55" fill="#ffed00"/>
<rect x="9.6" y="45.50" width="18.799999999999997" height="6.55" fill="#ffc600"/>
<rect x="9.6" y="39.25" width="18.799999999999997" height="6.55" fill="#ffa200"/>
<rect x="9.6" y="33.00" width="18.799999999999997" height="6.55" fill="#ff8000"/>
<rect x="9.6" y="26.75" width="18.799999999999997" height="6.55" fill="#ff5b00"/>
<rect x="9.6" y="20.50" width="18.799999999999997" height="6.55" fill="#ff3700"/>
<rect x="9.6" y="14.25" width="18.799999999999997" height="6.55" fill="#ff1500"/>
<rect x="9.6" y="8.00" width="18.799999999999997" height="6.55" fill="#fd0000"/>
<line x1="9.6" x2="28.4" y1="189.25" y2="189.25" stroke="#9a9078" stroke-opacity="0.6" stroke-width="0.5"/>
<line x1="9.6" x2="28.4" y1="183.00" y2="183.00" stroke="#9a9078" stroke-opacity="0.6" stroke-width="0.5"/>
<line x1="9.6" x2="28.4" y1="176.75" y2="176.75" stroke="#9a9078" stroke-opacity="0.6" stroke-width="0.5"/>
<line x1="9.6" x2="28.4" y1="170.50" y2="170.50" stroke="#9a9078" stroke-opacity="0.6" stroke-width="0.5"/>
<line x1="9.6" x2="28.4" y1="164.25" y2="164.25" stroke="#222" stroke-width="0.8"/>
<line x1="9.6" x2="28.4" y1="158.00" y2="158.00" stroke="#9a9078" stroke-opacity="0.6" stroke-width="0.5"/>
<line x1="9.6" x2="28.4" y1="151.75" y2="151.75" stroke="#9a9078" stroke-opacity="0.6" stroke-width="0.5"/>
<line x1="9.6" x2="28.4" y1="145.50" y2="145.50" stroke="#9a9078" stroke-opacity="0.6" stroke-width="0.5"/>
<line x1="9.6" x2="28.4" y1="139.25" y2="139.25" stroke="#9a9078" stroke-opacity="0.6" stroke-width="0.5"/>
<line x1="9.6" x2="28.4" y1="133.00" y2="133.00" stroke="#222" stroke-width="0.8"/>
<line x1="9.6" x2="28.4" y1="126.75" y2="126.75" stroke="#9a9078" stroke-opacity="0.6" stroke-width="0.5"/>
<line x1="9.6" x2="28.4" y1="120.50" y2="120.50" stroke="#9a9078" stroke-opacity="0.6" stroke-width="0.5"/>
<line x1="9.6" x2="28.4" y1="114.25" y2="114.25" stroke="#9a9078" stroke-opacity="0.6" stroke-width="0.5"/>
<line x1="9.6" x2="28.4" y1="108.00" y2="108.00" stroke="#9a9078" stroke-opacity="0.6" stroke-width="0.5"/>
<line x1="9.6" x2="28.4" y1="101.75" y2="101.75" stroke="#222" stroke-width="0.8"/>
<line x1="9.6" x2="28.4" y1="95.50" y2="95.50" stroke="#9a9078" stroke-opacity="0.6" stroke-width="0.5"/>
<line x1="9.6" x2="28.4" y1="89.25" y2="89.25" stroke="#9a9078" stroke-opacity="0.6" stroke-width="0.5"/>
<line x1="9.6" x2="28.4" y1="83.00" y2="83.00" stroke="#9a9078" stroke-opacity="0.6" stroke-width="0.5"/>
<line x1="9.6" x2="28.4" y1="76.75" y2="76.75" stroke="#9a9078" stroke-opacity="0.6" stroke-width="0.5"/>
<line x1="9.6" x2="28.4" y1="70.50" y2="70.50" stroke="#222" stroke-width="0.8"/>
<line x1="9.6" x2="28.4" y1="64.25" y2="64.25" stroke="#9a9078" stroke-opacity="0.6" stroke-width="0.5"/>
<line x1="9.6" x2="28.4" y1="58.00" y2="58.00" stroke="#9a9078" stroke-opacity="0.6" stroke-width="0.5"/>
<line x1="9.6" x2="28.4" y1="51.75" y2="51.75" stroke="#9a9078" stroke-opacity="0.6" stroke-width="0.5"/>
<line x1="9.6" x2="28.4" y1="45.50" y2="45.50" stroke="#9a9078" stroke-opacity="0.6" stroke-width="0.5"/>
<line x1="9.6" x2="28.4" y1="39.25" y2="39.25" stroke="#222" stroke-width="0.8"/>
<line x1="9.6" x2="28.4" y1="33.00" y2="33.00" stroke="#9a9078" stroke-opacity="0.6" stroke-width="0.5"/>
<line x1="9.6" x2="28.4" y1="26.75" y2="26.75" stroke="#9a9078" stroke-opacity="0.6" stroke-width="0.5"/>
<line x1="9.6" x2="28.4" y1="20.50" y2="20.50" stroke="#9a9078" stroke-opacity="0.6" stroke-width="0.5"/>
<line x1="9.6" x2="28.4" y1="14.25" y2="14.25" stroke="#9a9078" stroke-opacity="0.6" stroke-width="0.5"/>
<text x="32.3" y="30.84" font-size="12.2" font-family="'Liberation Serif', 'Times New Roman', serif" fill="#111">130</text>
<text x="32.3" y="49.59" font-size="12.2" font-family="'Liberation Serif', 'Times New Roman', serif" fill="#111">115</text>
<text x="32.3" y="68.34" font-size="12.2" font-family="'Liberation Serif', 'Times New Roman', serif" fill="#111">100</text>
<text x="32.3" y="87.09" font-size="12.2" font-family="'Liberation Serif', 'Times New Roman', serif" fill="#111">85</text>
<text x="32.3" y="105.84" font-size="12.2" font-family="'Liberation Serif', 'Times New Roman', serif" fill="#111">70</text>
<text x="32.3" y="124.59" font-size="12.2" font-family="'Liberation Serif', 'Times New Roman', serif" fill="#111">55</text>
<text x="32.3" y="143.34" font-size="12.2" font-family="'Liberation Serif', 'Times New Roman', serif" fill="#111">40</text>
<text x="32.3" y="162.09" font-size="12.2" font-family="'Liberation Serif', 'Times New Roman', serif" fill="#111">25</text>
<text x="32.3" y="180.84" font-size="12.2" font-family="'Liberation Serif', 'Times New Roman', serif" fill="#111">10</text>
<text x="29.6" y="199.7" font-size="12.2" font-family="'Liberation Serif', 'Times New Roman', serif" fill="#111"><tspan font-size="9.4" dy="-0.9">−</tspan><tspan dy="0.9">5</tspan></text>
<rect x="487" y="185.52" width="19.19999999999999" height="11.38" fill="#0e54f7"/>
<rect x="487" y="174.44" width="19.19999999999999" height="11.38" fill="#2868f6"/>
<rect x="487" y="163.35" width="19.19999999999999" height="11.38" fill="#417af6"/>
<rect x="487" y="152.27" width="19.19999999999999" height="11.38" fill="#6292f6"/>
<rect x="487" y="141.19" width="19.19999999999999" height="11.38" fill="#82a7f5"/>
<rect x="487" y="130.11" width="19.19999999999999" height="11.38" fill="#a5c0f0"/>
<rect x="487" y="119.02" width="19.19999999999999" height="11.38" fill="#c4d8e5"/>
<rect x="487" y="107.94" width="19.19999999999999" height="11.38" fill="#e3ecd1"/>
<rect x="487" y="96.86" width="19.19999999999999" height="11.38" fill="#ffffcf"/>
<rect x="487" y="85.78" width="19.19999999999999" height="11.38" fill="#ffffa0"/>
<rect x="487" y="74.69" width="19.19999999999999" height="11.38" fill="#ffff64"/>
<rect x="487" y="63.61" width="19.19999999999999" height="11.38" fill="#ffff32"/>
<rect x="487" y="52.53" width="19.19999999999999" height="11.38" fill="#ffff00"/>
<rect x="487" y="41.45" width="19.19999999999999" height="11.38" fill="#ffba00"/>
<rect x="487" y="30.36" width="19.19999999999999" height="11.38" fill="#ff7d00"/>
<rect x="487" y="19.28" width="19.19999999999999" height="11.38" fill="#ff3c00"/>
<rect x="487" y="8.20" width="19.19999999999999" height="11.38" fill="#ff0000"/>
<line x1="487" x2="506.2" y1="185.52" y2="185.52" stroke="#9a9078" stroke-opacity="0.6" stroke-width="0.5"/>
<line x1="487" x2="506.2" y1="174.44" y2="174.44" stroke="#9a9078" stroke-opacity="0.6" stroke-width="0.5"/>
<line x1="487" x2="506.2" y1="163.35" y2="163.35" stroke="#9a9078" stroke-opacity="0.6" stroke-width="0.5"/>
<line x1="487" x2="506.2" y1="152.27" y2="152.27" stroke="#9a9078" stroke-opacity="0.6" stroke-width="0.5"/>
<line x1="487" x2="506.2" y1="141.19" y2="141.19" stroke="#222" stroke-width="0.8"/>
<line x1="487" x2="506.2" y1="130.11" y2="130.11" stroke="#9a9078" stroke-opacity="0.6" stroke-width="0.5"/>
<line x1="487" x2="506.2" y1="119.02" y2="119.02" stroke="#9a9078" stroke-opacity="0.6" stroke-width="0.5"/>
<line x1="487" x2="506.2" y1="107.94" y2="107.94" stroke="#9a9078" stroke-opacity="0.6" stroke-width="0.5"/>
<line x1="487" x2="506.2" y1="96.86" y2="96.86" stroke="#9a9078" stroke-opacity="0.6" stroke-width="0.5"/>
<line x1="487" x2="506.2" y1="85.78" y2="85.78" stroke="#222" stroke-width="0.8"/>
<line x1="487" x2="506.2" y1="74.69" y2="74.69" stroke="#9a9078" stroke-opacity="0.6" stroke-width="0.5"/>
<line x1="487" x2="506.2" y1="63.61" y2="63.61" stroke="#9a9078" stroke-opacity="0.6" stroke-width="0.5"/>
<line x1="487" x2="506.2" y1="52.53" y2="52.53" stroke="#9a9078" stroke-opacity="0.6" stroke-width="0.5"/>
<line x1="487" x2="506.2" y1="41.45" y2="41.45" stroke="#9a9078" stroke-opacity="0.6" stroke-width="0.5"/>
<line x1="487" x2="506.2" y1="30.36" y2="30.36" stroke="#222" stroke-width="0.8"/>
<line x1="487" x2="506.2" y1="19.28" y2="19.28" stroke="#9a9078" stroke-opacity="0.6" stroke-width="0.5"/>
<text x="509.3" y="23.05" font-size="12.6" font-family="'Liberation Serif', 'Times New Roman', serif" fill="#111">65</text>
<text x="509.3" y="34.14" font-size="12.6" font-family="'Liberation Serif', 'Times New Roman', serif" fill="#111">60</text>
<text x="509.3" y="45.22" font-size="12.6" font-family="'Liberation Serif', 'Times New Roman', serif" fill="#111">55</text>
<text x="509.3" y="56.30" font-size="12.6" font-family="'Liberation Serif', 'Times New Roman', serif" fill="#111">50</text>
<text x="509.3" y="67.38" font-size="12.6" font-family="'Liberation Serif', 'Times New Roman', serif" fill="#111">45</text>
<text x="509.3" y="78.47" font-size="12.6" font-family="'Liberation Serif', 'Times New Roman', serif" fill="#111">40</text>
<text x="509.3" y="89.55" font-size="12.6" font-family="'Liberation Serif', 'Times New Roman', serif" fill="#111">35</text>
<text x="509.3" y="100.63" font-size="12.6" font-family="'Liberation Serif', 'Times New Roman', serif" fill="#111">30</text>
<text x="509.3" y="111.71" font-size="12.6" font-family="'Liberation Serif', 'Times New Roman', serif" fill="#111">25</text>
<text x="509.3" y="122.79" font-size="12.6" font-family="'Liberation Serif', 'Times New Roman', serif" fill="#111">20</text>
<text x="509.3" y="133.88" font-size="12.6" font-family="'Liberation Serif', 'Times New Roman', serif" fill="#111">15</text>
<text x="509.3" y="144.96" font-size="12.6" font-family="'Liberation Serif', 'Times New Roman', serif" fill="#111">10</text>
<text x="509.3" y="156.04" font-size="12.6" font-family="'Liberation Serif', 'Times New Roman', serif" fill="#111">5</text>
<text x="509.3" y="167.12" font-size="12.6" font-family="'Liberation Serif', 'Times New Roman', serif" fill="#111">0</text>
<text x="508" y="178.54999999999998" font-size="12.2" font-family="'Liberation Serif', 'Times New Roman', serif" fill="#111"><tspan font-size="9.4" dy="-0.9">−</tspan><tspan dy="0.9">5</tspan></text>
<text x="508" y="189.6" font-size="12.2" font-family="'Liberation Serif', 'Times New Roman', serif" fill="#111"><tspan font-size="9.4" dy="-0.9">−</tspan><tspan dy="0.9">10</tspan></text>
<text x="508" y="200.7" font-size="12.2" font-family="'Liberation Serif', 'Times New Roman', serif" fill="#111"><tspan font-size="9.4" dy="-0.9">−</tspan><tspan dy="0.9">15</tspan></text>
<clipPath id="clip_b"><path d="M83,316 L477,316 L477,398.5 L310.4,398.5 L306.6,381.5 L296.2,381.5 L292.4,398.5 L92.5,398.5 L88.6,381.5 L83,381.5Z"/></clipPath>
<g clip-path="url(#clip_b)" filter="url(#soft)">
<clipPath id="clip_bL"><rect x="83" y="315" width="217.5" height="84.60000000000002"/></clipPath>
<g clip-path="url(#clip_bL)">
<path d="M90 314l212 0l0 13.8l-12-1.2l-24-4l-24-1.6l-12 2.3l-3 0.3l-64 0.7l-13-1.7l-20 2.3l-19 1.6l-4 0l-6-0.8l-3-0.9l-2-1l-2.9-2.8l-2-5l-1.5-2z" fill="#0d52f7" stroke="#0d52f7" stroke-width="0.4" fill-rule="evenodd"/>
<path d="M82 314l7.6 0l1.5 2l2 5l2.9 2.8l2 1l3 0.9l6 0.8l4 0l19-1.6l20-2.3l13 1.7l64-0.7l3-0.3l12-2.3l24 1.6l24 4l12 1.2l0 56.6l-6-0.4l-8-1.4l-2-0.7l-8-4.1l-2.4-1.8l-7.6-7.9l-10.5-12.1l-9.5-8.3l-3-2l-10-4.1l-4-0.8l-5-0.2l-10 0.8l-17 2.6l-17 4.9l-13 1.5l-2-0.6l-2-1.8l-4-2.3l-10.2-8.7l-8.8-4.5l-2-0.7l-4-0.4l-10 0.7l-9 1.2l-6 2.1l-9 1l-3 0l-3-0.7l-4-2.3l-3-2.5l-2.4-2.9l-2.9-5l-2.7-3l0-6z" fill="#1d5ff6" stroke="#1d5ff6" stroke-width="0.4" fill-rule="evenodd"/>
<path d="M81 320l2.7 3l2.9 5l2.4 2.9l3 2.5l4 2.3l3 0.7l3 0l9-1l6-2.1l9-1.2l10-0.7l4 0.4l2 0.7l8.8 4.5l10.2 8.7l4 2.3l2 1.8l2 0.6l13-1.5l17-4.9l17-2.6l10-0.8l5 0.2l4 0.8l10 4.1l3 2l9.5 8.3l10.5 12.1l7.6 7.9l2.4 1.8l8 4.1l2 0.7l8 1.4l6 0.4l0 15.6l-77.7 0l-1.5-2l-0.6-2l-0.2-7l-1.5-5l-2.5-4.3l-4.4-5.7l-1.6-1.4l-2-0.7l-11-1.9l-17-0.8l-15-2.9l-10-6.4l-8.3-13.9l-1.7-2l-7-5.5l-5-1.9l-4-0.7l-14 1.7l-10 4l-8 4.3l-2 0.3l-2-0.6l-3-1.6l-3.9-3l-7.1-8.2l0-12.8z" fill="#2f6df6" stroke="#2f6df6" stroke-width="0.4" fill-rule="evenodd"/>
<path d="M81.1 333l4.9 5.8l3 3l4 2.8l4 1.6l3-0.7l7-3.9l10-4l14-1.7l5.5 1.1l3.5 1.5l7 5.5l1.7 2l8.3 13.9l9 5.9l3 1l13 2.4l19 1.1l10 1.8l1.6 0.9l1 1l5.3 7l2 4l1.1 4l0.2 7l0.6 2l1.5 2l-19.8 0l-3.5-2.9l-8-4.6l-18-7.5l-4-2.2l-3-2.3l-3-3.5l-10.6-16l-11.4-12.8l-3-2.5l-3-1.9l-3-1.2l-3-0.5l-9 0.1l-3 0.5l-10 3.1l-7 5l-3.7 3.2l-2.3 0.8l-2-0.7l-1.6-1.1l-11.4-10.3l0-9.9z" fill="#417af6" stroke="#417af6" stroke-width="0.4" fill-rule="evenodd"/>
<path d="M81.3 343l11.1 10l1.6 1.1l2 0.7l2.3-0.8l3.7-3.2l7-5l9-2.9l4-0.7l8-0.1l3 0.3l3 0.9l3 1.7l4 3.2l11 12.3l11 16.5l3 3.5l3 2.3l4 2.2l18 7.5l8 4.6l3 2.4l0.5 0.5l-23.4 0l-6.1-4.1l-6-5.1l-6-7l-5-8.3l-5.3-10.5l-2.1-3l-9.6-9.7l-3-2.3l-3-1.7l-3-1l-4-0.5l-5 0.1l-4 0.6l-8 2.6l-12 6.7l-2 0.5l-2 0l-4-1.4l-10-6.8l0-6.4z" fill="#588af6" stroke="#588af6" stroke-width="0.4" fill-rule="evenodd"/>
<path d="M122 347l6-0.2l5 0.8l4 1.7l4 3l10.4 10.7l9.1 17l5.5 7.6l6 5.9l9.1 6.5l-12.5 0l-3.6-4.1l-3-4.5l-14.4-26.4l-3.3-4l-4.3-4.4l-3-2.5l-3-1.8l-3-1.1l-3-0.5l-3 0l-4 0.5l-6 1.6l-12.6 5.2l-3.4 1l-3 0.4l-2-0.1l-3-0.8l-10-4.9l0-4.5l10.2 6.9l2.8 1.1l3 0.2l3.7-1.3l11.3-6.4l6-1.8l3.9-0.8z" fill="#6f9af6" stroke="#6f9af6" stroke-width="0.4" fill-rule="evenodd"/>
<path d="M122 351l6-0.3l5 1.2l4 2.2l5.5 4.9l5.8 7l13.7 25.4l3 4.5l3.6 4.1l-7.7 0l-2.3-4l-3.9-9l-9.8-18l-5.9-8l-3-2.9l-3.1-2.1l-2.4-1l-2.5-0.5l-5 0.1l-5 1.2l-10 3.4l-7 1.4l-6 0.8l-4-0.5l-10-3.7l0-3.6l6.5 3.4l4.5 1.9l3 0.5l3-0.2l7.1-2.2l10.9-4.5l5.9-1.5z" fill="#85aaf5" stroke="#85aaf5" stroke-width="0.4" fill-rule="evenodd"/>
<path d="M121 355l5-0.6l5 0.7l4 2.2l4 3.7l4.6 6l3.4 5.6l7.7 14.4l3.9 9l2.3 4l-6 0l-1.2-3l-1.7-6l-6-11.7l-10-15.4l-2.9-2.9l-3.1-2l-3-0.7l-3 0.1l-4 0.8l-10 2.7l-16 1.6l-3-0.4l-10-2.7l0-3.2l10 3.7l4 0.5l6-0.8l7-1.4l12.9-4.2z" fill="#9ebcf2" stroke="#9ebcf2" stroke-width="0.4" fill-rule="evenodd"/>
<path d="M121 358.9l4-0.6l4 0.3l4 2.3l3 3l5.5 8.1l5.5 9l5 10l1.7 6l1.2 3l-4.8 0l-3.1-9l-5-10l-4.4-7l-4.4-6l-2.2-2.3l-2.6-1.7l-2.4-0.8l-3-0.1l-12 1.7l-17 0.8l-4-0.4l-9-1.8l0-3l10 2.7l3 0.4l16-1.6l10.7-2.9z" fill="#b5cdeb" stroke="#b5cdeb" stroke-width="0.4" fill-rule="evenodd"/>
<path d="M82 363.6l9 1.8l3 0.2l17-0.8l12-1.7l3 0.1l3 1.1l3.3 2.7l4.7 6.2l5 7.8l3.7 7l1.7 4l2.7 8l-4.5 0l-4.2-11l-3.7-7l-5.7-8.1l-2.9-2.9l-2.1-1.5l-3-1.3l-4-0.5l-27 0l-8-0.7l-4-0.7l0-2.9z" fill="#cbdde0" stroke="#cbdde0" stroke-width="0.4" fill-rule="evenodd"/>
<path d="M82 366.5l11 1.2l28 0l3 0.5l3 1.3l3 2.3l4 4.7l3.7 5.5l3.2 6l4.7 12l-4.3 0l-4.5-11l-3.2-6l-4.7-6l-2.1-2l-2.8-1.9l-4-1.4l-10-1.4l-18-0.5l-10-0.6l-1-0.2l0-2.7z" fill="#e1ebd2" stroke="#e1ebd2" stroke-width="0.4" fill-rule="evenodd"/>
<path d="M81.2 369l5.8 0.6l23 0.7l10 1.4l4 1.4l3 2.1l3 3l3 3.8l2.9 5l5.4 13l-4.2 0l-4.4-11l-2.1-4l-4.6-5.6l-4-3.1l-4-1.5l-9-2.1l-28-1.3l0-2.4z" fill="#f5f8d0" stroke="#f5f8d0" stroke-width="0.4" fill-rule="evenodd"/>
<path d="M82 371.6l27 1.1l9 2.1l4 1.5l3 2.2l3 3.1l2.6 3.4l1.7 3l4.8 12l-3.9 0l-3.4-9l-1.9-4l-3.9-5l-4-3.1l-6-2.4l-8-1.8l-6-0.6l-19-0.6l0-2.1z" fill="#ffffbe" stroke="#ffffbe" stroke-width="0.4" fill-rule="evenodd"/>
<path d="M82 373.6l18 0.5l7 0.8l8 1.9l5 2.1l3 2.2l2.8 2.9l2.1 3l1.5 3l3.8 10l-3.7 0l-3.1-9l-2.1-4l-3.3-3.8l-4-2.9l-6-2.3l-9-2l-21-0.5l0-2z" fill="#ffff9c" stroke="#ffff9c" stroke-width="0.4" fill-rule="evenodd"/>
<path d="M82 375.5l17 0.3l4 0.4l8 1.8l6 2.3l2.6 1.7l2.4 2.2l2.3 2.8l1.6 3l3.6 10l-3.5 0l-2.1-7l-1.9-4.2l-3-3.8l-4-3l-5-2.2l-8-2.2l-21-0.3l0-1.8z" fill="#ffff72" stroke="#ffff72" stroke-width="0.4" fill-rule="evenodd"/>
<path d="M82 377.3l19 0.1l9 2.4l5 2.2l2.9 2l2.1 2l1.5 2l1.6 3l2.9 9l-3.5 0l-1.8-7l-1.7-3.8l-2.6-3.2l-4-3l-3.4-1.6l-8-2.6l-20 0.3l0-1.8z" fill="#ffff4c" stroke="#ffff4c" stroke-width="0.4" fill-rule="evenodd"/>
<path d="M83 379l18-0.2l3 0.8l8 3.2l4 2.8l2.9 3.4l1.8 4l1.8 7l-3.2 0l-1.4-6l-1.7-4l-3.3-4l-3.9-2.7l-6-2.6l-4-0.9l-18 1l0-1.7l2-0.1z" fill="#ffff28" stroke="#ffff28" stroke-width="0.4" fill-rule="evenodd"/>
<path d="M93 380l6-0.2l3 0.6l6.4 2.6l3.3 2l3.1 3l2 3l1.1 3l1.4 6l-3.3 0l-1.6-7l-2-4l-1.6-2l-2.4-2l-4.4-2.4l-3-1.2l-3-0.5l-10 0.6l-7 1.1l0-1.8l11.2-0.8z" fill="#ffff05" stroke="#ffff05" stroke-width="0.4" fill-rule="evenodd"/>
<path d="M96 381l3.2 0l3.6 1l4.2 2.1l3.8 2.9l1.6 2l1.6 3l2 8l-3.5 0l-1.3-7l-1.8-4l-2.6-3l-5.1-3l-2.7-0.9l-2-0.1l-8 0.7l-8 1.8l0-1.9l7-1.1l7.5-0.5z" fill="#ffd500" stroke="#ffd500" stroke-width="0.4" fill-rule="evenodd"/>
<path d="M88 382.9l10-0.9l3 0.7l4.5 2.3l3.2 3l1.8 3l1 3l1 6l-3.7 0l-0.8-7l-1.6-4l-2.4-2.8l-4-2.3l-2-0.6l-8 0.7l-9 2.7l0-2.2l6.4-1.5z" fill="#ffa700" stroke="#ffa700" stroke-width="0.4" fill-rule="evenodd"/>
<path d="M90 384l8-0.7l2.2 0.7l4.8 3l1.4 2l1.3 3l1.1 8l-3.9 0l-0.4-6l-1.1-4l-2.5-3l-2.9-1.7l-2-0.1l-6.4 0.8l-8.6 3.5l0-2.8l9-2.7z" fill="#ff7b00" stroke="#ff7b00" stroke-width="0.4" fill-rule="evenodd"/>
<path d="M90 385.9l6-0.7l2 0.1l1.6 0.7l2.4 2l1.4 2l0.7 2l0.8 8l-5 0l0.1-6l-0.4-2l-1.6-2.7l-2-1l-2 0l-2.8 0.7l-10.2 4.2l0-3.7l8.6-3.5z" fill="#ff4e00" stroke="#ff4e00" stroke-width="0.4" fill-rule="evenodd"/>
<path d="M92 388.8l2-0.5l2 0l1.6 0.7l1 1l1 2l0.4 2l-0.1 6l-9.4 0l-2.5-1.6l-2-0.3l-5 0.5l0-5.4l10.2-4.2z" fill="#ff2200" stroke="#ff2200" stroke-width="0.4" fill-rule="evenodd"/>
<path d="M82 398.4l5-0.2l2 0.7l1.5 1.1l-9.5 0l0-1.4z" fill="#fd0000" stroke="#fd0000" stroke-width="0.4" fill-rule="evenodd"/>
<path d="M89.6 314l1.5 2l2 5l2.9 2.8l2 1l3 0.9l6 0.8l4 0l19-1.6l20-2.3l13 1.7l64-0.7l3-0.3l12-2.3l24 1.6l24 4l12 1.2M81 320l2.7 3l2.9 5l2.4 2.9l3 2.5l4 2.3l3 0.7l3 0l9-1l6-2.1l9-1.2l10-0.7l4 0.4l2 0.7l8.8 4.5l10.2 8.7l4 2.3l2 1.8l2 0.6l13-1.5l17-4.9l17-2.6l10-0.8l5 0.2l4 0.8l10 4.1l3 2l9.5 8.3l10.5 12.1l7.6 7.9l2.4 1.8l8 4.1l2 0.7l8 1.4l6 0.4M81 332.8l5 6l3 3l4 2.8l4 1.6l3-0.7l7-3.9l10-4l14-1.7l4 0.7l4 1.4l2 1.2l7 5.8l9 14.9l9 5.9l3 1l13 2.4l17 0.8l11 1.9l2.6 1.1l5.6 7l2.3 4l1.5 5l0.2 7l0.6 2l1.5 2M81 349.1l10.2 6.9l2.8 1.1l2 0.2l2-0.2l2.7-1.1l11.3-6.4l7-2.1l5-0.7l5 0.1l4 0.7l3 1.2l5 3.5l10.4 10.7l9.1 17l5.5 7.6l6 5.9l9.1 6.5M81 353.6l10 4.9l3 0.8l2 0.1l3-0.4l3.4-1l12.6-5.2l7-1.8l4-0.3l3 0.2l3 0.6l3 1.3l3 2l2.5 2.2l3.8 4l3.3 4l14.4 26.4l3 4.5l3.6 4.1M81 357.2l10 3.7l4 0.5l6-0.8l7-1.4l10-3.4l5-1.2l5-0.1l2.5 0.5l2.5 1l3 2.1l3 2.9l5.9 8l9.8 18l3.9 9l2.3 4M81 363.4l12 2.2l17-0.8l13-1.7l3 0.1l3 1.1l2.3 1.7l2.7 3.1l8 11.9l5 10l3.1 9M81 366.3l12 1.4l27 0l3 0.3l3.1 1l2.9 1.9l2 1.9l3 3.7l3.1 4.5l4.3 8l4.2 11M81 369l6 0.6l23 0.7l10 1.4l4 1.4l2.8 1.9l2.1 2l4.7 6l3.2 6l4.5 11M81 373.5l19 0.6l6 0.6l6 1.2l7 2.4l4 2.8l4.2 4.9l2.6 5l3.4 9M81 375.5l21 0.5l8 1.7l6.3 2.3l4.5 3l3.5 4l2.1 4l3.1 9M81 377.3l20 0.1l8 2.1l5 2l4 2.6l3.5 3.9l2 4l2.5 8M81 380.8l18-1l4 0.9l5.4 2.3l4.5 3l3.1 3.6l1.6 3.4l1.7 7M81 382.6l7-1.1l10-0.6l3 0.5l4 1.6l4.7 3l2.7 3l2 4l1.6 7M81 384.5l8-1.8l8-0.7l3 0.4l3 1.2l3.8 2.4l1.9 2l1.3 2l1.5 4l1 6M81 389.5l9-3.6l7-0.7l2 0.5l3 2.3l1.4 2l1.1 4l0.4 6M81 393.2l11-4.4l3-0.6l2 0.5l1.6 1.3l1 2l0.4 2l-0.1 6M81 398.6l4-0.5l2 0.1l2 0.7l1.5 1.1" fill="none" stroke="#9a9a9a" stroke-opacity="0.75" stroke-width="0.55"/>
<path d="M81 342.7l11.4 10.3l1.6 1.1l2 0.7l2.3-0.8l3.7-3.2l7-5l9-2.9l4-0.7l8-0.1l3 0.3l3 0.9l3 1.7l4 3.2l11 12.3l11 16.5l3 3.5l3 2.3l4 2.2l18 7.5l8 4.6l3.5 2.9M81 360.4l10 2.7l3 0.4l16-1.6l10-2.7l4-0.8l4 0l3 1.1l3 2.3l2.1 2.2l10.3 16l5.6 11l1.7 6l1.2 3M81 371.4l28 1.3l9 2.1l3.3 1.2l2.7 1.7l2 1.7l4.6 5.6l2.1 4l4.4 11M81 379.1l19-0.4l3 0.6l8 3l4.3 2.7l3.6 4l1.8 4l1.8 7M81 386.7l9-2.7l8-0.7l2.2 0.7l3.8 2.2l2.4 2.8l1.6 4l0.8 7" fill="none" stroke="#1a1a1a" stroke-width="0.75"/>
<text x="147.3" y="352.8" transform="rotate(46 147.3 352.8)" font-size="13.8" text-anchor="middle" font-family="'Liberation Serif', 'Times New Roman', serif" fill="#111" stroke="#4a83f2" stroke-width="2.4" paint-order="stroke" dominant-baseline="central">60</text>
</g>
<clipPath id="clip_bR"><rect x="300.5" y="315" width="176.5" height="84.60000000000002"/></clipPath>
<g clip-path="url(#clip_bR)">
<path d="M357.5 314l55.6 0l-7.6 0.5l-7 1.2l-14 5.3l-4 0.7l-10-2.9l-10-2.5l-3.5-2.3zM417.5 314l61 0l0 12.5l-3-0.7l-28-1.9l-3-1l-13-6.9l-6-1.3l-8.5-0.7zM314.5 343.9l1 0.2l1.2 0.9l1.8 2.3l0.7 1.7l-0.4 3l-1.3 3l-1 1.2l-1.9 0.8l-2.4 0l-1.2-1l0-1l0.4-1l-0.9-3l0.1-2l0.5-2l1.4-2l1.7-1z" fill="#0d52f7" stroke="#0d52f7" stroke-width="0.4" fill-rule="evenodd"/>
<path d="M299.5 314l57.5 0l3.5 2.3l10 2.5l10 2.9l4-0.7l12-4.7l4-1l10-1.2l10 0.1l6 0.6l5 1.2l15 7.7l29 2.1l3 0.7l0 48l-3-1.2l-8-1.9l-3-1.5l-5-4.4l-9.1-10.5l-1.9-1.5l-11-3.1l-12-4.7l-4-2.1l-8-5.1l-3-1.4l-11-3.3l-4-0.7l-15-0.5l-17 2.4l-18-2.4l-3.5-1.6l-2.1-2l-2.8-7l-1.9-3l-2.7-2l-3-0.7l-2 0.2l-2 1.1l-1.2 1.4l-0.7 2l0.4 3l3.5 7l1 4l-0.5 9l-2.3 6l-4.2 6.4l-1.9 1.6l-1.8 1l-1.3 0.3l-5 0.4l-1-0.2l-4.4-2.5l-2.7-4l-1.3-3l-1.4-6l-2.2-6.1l0-23.9zM314.2 344l-1.7 1l-1.4 2l-0.5 2l-0.1 2l0.9 3l-0.4 1l0 1l1.2 1l2.4 0l1.9-0.8l1-1.2l1.3-3l0.4-3l-0.7-1.7l-1.8-2.3l-1.2-0.9l-1-0.2z" fill="#1e60f6" stroke="#1e60f6" stroke-width="0.4" fill-rule="evenodd"/>
<path d="M326.5 316.9l2-0.6l2 0.1l2 0.6l2 1.4l2.2 2.6l3.2 8l2.1 2l3.5 1.6l18 2.4l18-2.5l17 1l13 4l11 6.7l4 1.9l11 4.3l11 3.1l1.9 1.5l9.1 10.5l5 4.4l3 1.5l8 1.9l3 1.2l0 25.5l-61.9 0l-1.6-3l-2.7-14l-0.4-4l0-16l-0.6-4l-0.8-2.5l-1-1.5l-7-7.5l-2-1l-10-3.2l-3-0.5l-14-0.5l-16 4l-10 0.9l-13 0.7l-3 0.9l-1.8 1.2l-7.2 8l-3 1.9l-3 0.8l-4 0.3l-3-0.5l-3-1.2l-2-1.3l-2-2l-2-1.2l-2-2l0-14.9l2.2 6.1l1.8 7l1.4 3l2.2 3l3.2 2l2.2 0.7l6-0.6l3-1.8l1-0.9l3.7-5.4l2.8-7l0.4-10l-1.8-5l-2.6-5l-0.5-2l0.8-3l2-2z" fill="#316ef6" stroke="#316ef6" stroke-width="0.4" fill-rule="evenodd"/>
<path d="M370.5 342.8l4-0.6l13 0.6l4 0.8l9 2.9l2 1l7 7.5l1.6 3l0.7 4l0.1 17l0.5 5l2.6 13l1.6 3l-8.6 0l-0.5-2l-1-1.6l-8.8-10.4l-2.1-4l-1.2-4l-0.4-12l-1.2-6l-1.3-3l-1.4-2l-2.6-2.6l-2-1.1l-8-1.2l-9 2.4l-8 1.1l-8.4 2.4l-4.6 0.8l-2-0.1l-8-2.3l-3-0.4l-2 0.1l-4 1.6l-4 2.7l-1.4 1.6l-1.6 0.9l-5 1.2l-3 0.2l-7-1.2l-3.5-2.1l-2-2l-2.5-1.1l0-3.1l2 2l2 1.2l2 2l3.4 2l3.6 0.9l5-0.2l2.7-0.7l2.3-1.1l8-8.8l3-1.7l4-0.8l7-0.2l14-1.1l12.3-3.3z" fill="#447cf6" stroke="#447cf6" stroke-width="0.4" fill-rule="evenodd"/>
<path d="M374.5 350.7l3-0.6l8 1.2l2.7 1.7l2.6 3l1.7 3l1.1 4l0.5 4l0.1 10l1.4 5l1.5 3l2.1 3l7.3 8.4l1 1.6l0.5 2l-28.5 0l-1.8-2l-0.5-1l-0.5-3l0.1-5l-0.4-3l-1.3-4l-1.9-3l-3.1-3l-3.9-3l-6.7-3.8l-7.3-5.2l-2.7-1.4l-9-2.5l-2-0.1l-8 0.8l-5 2.3l-4-0.3l-3 0.9l-4-0.3l-3 0.7l-3-1.3l-3-0.2l-5-1.5l-2-1.8l0-3.4l2.5 1.1l2 2l3.5 2.1l6 1.2l4-0.2l6-1.6l2-2.1l3-2.1l3-1.6l2-0.6l2-0.1l3 0.4l8 2.3l2 0.1l4.6-0.8l8.4-2.4l8-1.1l5.1-1.5z" fill="#5c8ef6" stroke="#5c8ef6" stroke-width="0.4" fill-rule="evenodd"/>
<path d="M299.2 360l1.3 1.1l5 1.5l3 0.2l3 1.3l3-0.7l4 0.3l3-0.9l4 0.3l5-2.3l8-0.8l2 0.1l9 2.5l2 1l7.7 5.4l7 4l5.3 4.2l2.4 2.8l1.6 3.1l1.2 4.9l0.2 8l0.8 2l1.8 2l-8.4 0l-6.6-13.2l-5.4-8.8l-2.7-3l-8.9-7l-5-2l-10-1.5l-6 0.2l-5-0.3l-3 0.7l-4-0.5l-3 0.8l-3-1.4l-4 0l-6-1.7l0-3z" fill="#749ef5" stroke="#749ef5" stroke-width="0.4" fill-rule="evenodd"/>
<path d="M299.5 362.7l5 1.3l4 0l3 1.4l3-0.8l4 0.5l3-0.7l5 0.3l5-0.2l10 1.2l4 1.3l3.5 2l7.5 6.1l2.6 2.9l2.7 4l5.7 10.4l3.6 7.6l-5.5 0l-2.1-3.2l-10.2-10.8l-2.2-5l-3.8-6l-3.2-3l-2.6-1.7l-4-1.6l-5-1.4l-11-1.2l-4 0.3l-3-0.6l-3 0.7l-4-1.1l-3 0.3l-2-0.3l-4-1l0-2.1z" fill="#8daff4" stroke="#8daff4" stroke-width="0.4" fill-rule="evenodd"/>
<path d="M299.5 364.7l4 0.9l4-0.2l3 1l1 0.1l3-0.7l3 0.6l4-0.3l11 1.2l5 1.4l4 1.6l2.6 1.7l3.2 3l3.8 6l2.2 5l11.2 12l1.1 2l-6.1 0l-8-6.8l-2-2.3l-1.9-2.9l-4.5-10l-2.6-3.4l-3-2.4l-4-1.7l-9-1.8l-7-0.5l-3-0.6l-4 0.3l-9-0.6l-3-0.8l0-2.1z" fill="#a6c1f0" stroke="#a6c1f0" stroke-width="0.4" fill-rule="evenodd"/>
<path d="M299.5 366.8l4 0.8l4-0.1l3 0.4l4-0.3l3 0.6l7 0.5l9 1.8l4 1.7l3 2.4l2.6 3.4l4.5 10l1.9 2.9l2 2.3l8 6.8l-5.9 0l-3.1-3.3l-3-4.1l-7.3-13.6l-2.6-3l-2.1-1.6l-4-1.7l-8-1.9l-10-0.9l-12-0.5l-3-0.8l0-2.1z" fill="#bdd3e8" stroke="#bdd3e8" stroke-width="0.4" fill-rule="evenodd"/>
<path d="M299.5 368.9l4 0.8l10 0.2l10 0.9l8 1.9l4 1.7l2.1 1.6l2.6 3l7.3 13.6l3 4.1l3.1 3.3l-4.2 0l-2.9-4.7l-7-13.2l-3-3.7l-3-2.4l-4-1.8l-6-1.5l-23-1.6l-2-0.6l0-1.9z" fill="#d4e3da" stroke="#d4e3da" stroke-width="0.4" fill-rule="evenodd"/>
<path d="M299.5 370.8l4 0.7l20 1.2l6 1.5l4 1.8l3 2.4l3 3.7l7 13.2l2.9 4.7l-3.2 0l-3.4-8l-3.7-7l-3.6-4.6l-4-3.2l-4-1.8l-5-1.2l-22-1.6l-2-0.5l0-1.6z" fill="#eaf1d0" stroke="#eaf1d0" stroke-width="0.4" fill-rule="evenodd"/>
<path d="M299.5 372.4l3 0.5l20 1.3l5 1.2l4 1.8l2.5 1.8l2.5 2.5l2 2.6l2.3 3.9l5.4 12l-2.8 0l-2.2-7l-3.1-6l-3.8-5l-3.8-3.2l-3.4-1.8l-3.6-1.2l-9-1l-14-0.9l-2-0.5l0-1.3z" fill="#ffffcf" stroke="#ffffcf" stroke-width="0.4" fill-rule="evenodd"/>
<path d="M299.5 373.7l23 1.9l4 1.1l4 2.1l2.8 2.2l2.7 3l2.1 3l2.6 5l2.7 8l-2.8 0l-1.5-6l-2.8-6l-3.7-5l-4.1-3.5l-3-1.6l-4-1.2l-7-0.9l-14-0.9l-2-0.3l0-1.2z" fill="#ffffac" stroke="#ffffac" stroke-width="0.4" fill-rule="evenodd"/>
<path d="M299.5 374.8l15 1l6 0.7l4 1l4 2l3.1 2.5l2.6 3l2.1 3l2 4l1.1 3l1.2 5l-2.8 0l-1.8-7l-2.3-5l-3.7-5l-3.5-2.9l-4-1.9l-4-1l-3-0.5l-17-1l0-1.1z" fill="#ffff84" stroke="#ffff84" stroke-width="0.4" fill-rule="evenodd"/>
<path d="M299.5 375.8l17.8 1.2l6.2 1.6l4 2.2l2.5 2.2l2.4 3l3.2 6l2.2 8l-3.1 0l-1.5-7l-1.5-4l-3.2-5l-3.3-3l-3.7-1.8l-5-1.5l-18-1l0-1z" fill="#ffff59" stroke="#ffff59" stroke-width="0.4" fill-rule="evenodd"/>
<path d="M299.5 376.7l17 1l5 1.5l4 2l2.1 1.8l2.4 3l1.7 3l1.2 3l1.8 8l-3 0l-1.1-7l-1.4-4l-2.2-4l-3-3l-3.6-2l-3.9-1.3l-18-0.8l0-1.2z" fill="#ffff34" stroke="#ffff34" stroke-width="0.4" fill-rule="evenodd"/>
<path d="M299.5 377.8l16 0.7l4.9 1.5l3.6 2l3 3l2.2 4l1.4 4l1.1 7l-2.7 0l-0.9-7l-1.2-4l-2.2-4l-3.4-3l-3.8-1.9l-2-0.6l-15-0.5l-2 0.2l0-1.3z" fill="#ffff0f" stroke="#ffff0f" stroke-width="0.4" fill-rule="evenodd"/>
<path d="M300.5 379l15 0.5l4 1.5l3 1.8l2.2 2.2l2.2 4l1.2 4l0.9 7l-2.7 0l-0.7-7l-1-4l-2.1-3.7l-2.5-2.3l-3.5-1.8l-2-0.4l-16 0l0-1.6l2-0.2z" fill="#ffe000" stroke="#ffe000" stroke-width="0.4" fill-rule="evenodd"/>
<path d="M299.5 380.7l15 0.1l2 0.4l3.5 1.8l2.5 2.3l2.1 3.7l1 4l0.7 7l-2.9 0l-0.3-6l-0.7-4l-1.9-3.9l-2.2-2.1l-1.9-1l-2.9-0.5l-15 0.5l0-2.2z" fill="#ffaf00" stroke="#ffaf00" stroke-width="0.4" fill-rule="evenodd"/>
<path d="M299.5 382.9l14-0.4l2.9 0.5l2.1 1.2l2.6 2.8l1.3 3l0.7 4l0.3 6l-3.7 0l0-7l-0.5-3l-0.7-2l-2-2.1l-2-0.7l-2 0.1l-5 2.2l-5-1.3l-4-0.2l0-3z" fill="#ff8200" stroke="#ff8200" stroke-width="0.4" fill-rule="evenodd"/>
<path d="M311.5 385.6l2-0.4l2 0.3l1.1 0.5l1.9 2l1.1 4l0.1 8l-6.7 0l-1.5-2.1l-3.5-2.9l-5.5-3l-4-1.4l0-4.6l4 0.2l5 1.3l1-0.2l2.1-1.3z" fill="#ff5300" stroke="#ff5300" stroke-width="0.4" fill-rule="evenodd"/>
<path d="M299.5 390.8l3 1.2l6 3.4l3 2.5l1.5 2.1l-10 0l-4.5-3.1l0-6.3z" fill="#ff2400" stroke="#ff2400" stroke-width="0.4" fill-rule="evenodd"/>
<path d="M298.6 397l4.4 3l-4.5 0l0-3.1z" fill="#fe0000" stroke="#fe0000" stroke-width="0.4" fill-rule="evenodd"/>
<path d="M357 314l3.5 2.3l10 2.5l10 2.9l4-0.7l14-5.3l7-1.2l7.6-0.5M417 314l8.5 0.7l6 1.3l13 6.9l3 1l28 1.9l3 0.7M314.5 343.9l-1 0.3l-1 0.8l-1.4 2l-0.5 2l0 3l0.8 2l-0.4 1l0 1l1.5 1.1l2.1-0.1l2.2-1l1.7-3l0.5-2l0.2-2l-0.7-1.7l-2-2.5l-1.6-0.8zM298.5 337.9l2.2 6.1l1.8 7l1.4 3l2.2 3l3.2 2l2.2 0.7l6-0.6l2.1-1.1l1.9-1.6l3.7-5.4l2.6-6l0.3-2l0.3-9l-1.8-5l-2.6-5l-0.5-2l0.3-2l1.2-2l1.5-1.1l2-0.6l2 0.1l3 1.2l2.5 2.4l1.1 2l2.2 6l1.2 1.7l2 1.6l3 1.3l18 2.4l17-2.4l15 0.5l4 0.7l11 3.3l3 1.4l8 5.1l4 2.1l12 4.7l11 3.1l1.9 1.5l9.1 10.5l5 4.4l3 1.5l8 1.9l3 1.2M298.5 352.8l2 2l2 1.2l2 2l3 1.8l3 1l4 0.1l4-0.7l2.8-1.2l8.2-8.9l2-1.3l3-0.9l13-0.7l10-0.9l16-4l16 0.8l12 3.8l2 1.4l6 6.7l1.6 3l0.9 6l-0.1 14l0.4 5l2.7 14l1.6 3M298.5 359.3l2 1.8l5 1.5l3 0.2l3 1.3l3-0.7l4 0.3l3-0.9l4 0.3l5-2.3l8-0.8l2 0.1l10 2.9l8.7 6l7 4l4.3 3.3l3 3.1l1.6 2.6l1.3 4l0.4 3l-0.1 5l0.5 3l0.5 1l1.8 2M298.5 362.3l6 1.7l4 0l3 1.4l3-0.8l4 0.5l3-0.7l5 0.3l6-0.2l9 1.2l5 1.8l3 1.9l6.9 5.6l2.7 3l5.4 8.8l6.6 13.2M298.5 364.4l5 1.2l4-0.2l3 1l1 0.1l3-0.7l3 0.6l4-0.3l11 1.2l8.5 2.7l3.1 2l3.2 3l3.8 6l2.2 5l10.2 10.8l2.1 3.2M298.5 368.6l5 1.1l10 0.2l10 0.9l8 1.9l3.3 1.3l2.8 2l2.6 3l7.3 13.6l3 4.1l3.1 3.3M298.5 370.5l4 0.9l21 1.3l6 1.5l3.9 1.8l3.1 2.4l3 3.7l7 13.2l2.9 4.7M298.5 372.1l4 0.8l21 1.5l4 1l4 1.8l4 3.2l3.6 4.6l3.7 7l3.4 8M298.5 374.6l22 1.9l4 1l3.2 1.5l3.9 3l4.1 5l3 6l1.9 7M298.5 375.7l18 1.2l6 1.3l3.8 1.8l3.7 3l3.7 5l2.3 5l1.8 7M298.5 376.7l18 1l5 1.5l3.7 1.8l3.3 3l3.2 5l1.5 4l1.5 7M298.5 379.2l2-0.2l15 0.5l3 1.1l3 1.5l3.2 2.9l2.2 4l1.2 4l0.9 7M298.5 380.8l16 0l2 0.4l3.5 1.8l2.5 2.3l2.1 3.7l1 4l0.7 7M298.5 383l15-0.5l2.9 0.5l1.9 1l2.2 2.1l1.9 3.9l0.7 4l0.3 6M298.5 390.6l4 1.4l5.5 3l3.5 2.9l1.5 2.1M298.5 396.9l4.5 3.1" fill="none" stroke="#9a9a9a" stroke-opacity="0.75" stroke-width="0.55"/>
<path d="M298.5 355.9l2.5 1.1l2 2l3.5 2.1l7 1.2l3-0.2l5-1.2l1.6-0.9l1.4-1.6l4-2.7l4-1.6l2-0.1l3 0.4l8 2.3l2 0.1l4.6-0.8l8.4-2.4l8-1.1l9-2.4l8 1.2l2 1.1l2.6 2.6l1.4 2l1.3 3l1.2 6l0.2 11l0.7 3l1.1 3l3.2 5l7.3 8.4l1 1.6l0.5 2M298.5 366.5l5 1.1l4-0.1l3 0.4l4-0.3l3 0.6l7 0.5l9 1.8l3.6 1.5l3.4 2.6l2.6 3.4l4.5 10l1.9 2.9l2 2.3l8 6.8M298.5 373.4l3 0.6l20 1.5l4 0.9l4 1.8l4 3l4 4.9l3.7 6.9l2.2 7M298.5 377.9l17 0.6l4.9 1.5l3.1 1.7l3.5 3.3l2.2 4l1.4 4l1.1 7M298.5 386l4 0.2l5 1.3l5-2.2l2-0.1l2 0.7l2 2.1l0.7 2l0.5 3l0 7" fill="none" stroke="#1a1a1a" stroke-width="0.75"/>
<text x="360.8" y="355.6" transform="rotate(-15 360.8 355.6)" font-size="13.8" text-anchor="middle" font-family="'Liberation Serif', 'Times New Roman', serif" fill="#111" stroke="#6e9df5" stroke-width="2.4" paint-order="stroke" dominant-baseline="central">30</text>
</g>
</g>
<line x1="302" y1="290.5" x2="300.2" y2="380.8" stroke="#ee1c2e" stroke-width="1.9" stroke-dasharray="7.5 3"/>
<path d="M56.4,398.3 L74.3,398.3 L78.3,381.5 L88.6,381.5 L92.5,398.3 L292.4,398.3 L296.2,381.5 L306.6,381.5 L310.4,398.3 L477,398.3" fill="none" stroke="#000" stroke-width="1.6" stroke-linejoin="miter"/>
<circle cx="96" cy="323.8" r="3.1" fill="#00eef0" stroke="#1f4a55" stroke-width="0.7"/>
<circle cx="112.5" cy="323.8" r="3.1" fill="#00eef0" stroke="#1f4a55" stroke-width="0.7"/>
<circle cx="129" cy="323.8" r="3.1" fill="#00eef0" stroke="#1f4a55" stroke-width="0.7"/>
<circle cx="162.5" cy="323.8" r="3.1" fill="#00eef0" stroke="#1f4a55" stroke-width="0.7"/>
<circle cx="195.5" cy="323.8" r="3.1" fill="#00eef0" stroke="#1f4a55" stroke-width="0.7"/>
<circle cx="228.5" cy="323.8" r="3.1" fill="#00eef0" stroke="#1f4a55" stroke-width="0.7"/>
<circle cx="314.5" cy="323.8" r="3.1" fill="#00eef0" stroke="#1f4a55" stroke-width="0.7"/>
<circle cx="331" cy="323.8" r="3.1" fill="#00eef0" stroke="#1f4a55" stroke-width="0.7"/>
<circle cx="347.5" cy="323.8" r="3.1" fill="#00eef0" stroke="#1f4a55" stroke-width="0.7"/>
<circle cx="381" cy="323.8" r="3.1" fill="#00eef0" stroke="#1f4a55" stroke-width="0.7"/>
<circle cx="414" cy="323.8" r="3.1" fill="#00eef0" stroke="#1f4a55" stroke-width="0.7"/>
<circle cx="447.3" cy="323.8" r="3.1" fill="#00eef0" stroke="#1f4a55" stroke-width="0.7"/>
<circle cx="96" cy="357" r="3.1" fill="#00eef0" stroke="#1f4a55" stroke-width="0.7"/>
<circle cx="112.5" cy="357" r="3.1" fill="#00eef0" stroke="#1f4a55" stroke-width="0.7"/>
<circle cx="129" cy="357" r="3.1" fill="#00eef0" stroke="#1f4a55" stroke-width="0.7"/>
<circle cx="162.5" cy="357" r="3.1" fill="#00eef0" stroke="#1f4a55" stroke-width="0.7"/>
<circle cx="195.5" cy="357" r="3.1" fill="#00eef0" stroke="#1f4a55" stroke-width="0.7"/>
<circle cx="228.5" cy="357" r="3.1" fill="#00eef0" stroke="#1f4a55" stroke-width="0.7"/>
<circle cx="314.5" cy="357" r="3.1" fill="#00eef0" stroke="#1f4a55" stroke-width="0.7"/>
<circle cx="331" cy="357" r="3.1" fill="#00eef0" stroke="#1f4a55" stroke-width="0.7"/>
<circle cx="347.5" cy="357" r="3.1" fill="#00eef0" stroke="#1f4a55" stroke-width="0.7"/>
<circle cx="381" cy="357" r="3.1" fill="#00eef0" stroke="#1f4a55" stroke-width="0.7"/>
<circle cx="414" cy="357" r="3.1" fill="#00eef0" stroke="#1f4a55" stroke-width="0.7"/>
<circle cx="447.3" cy="357" r="3.1" fill="#00eef0" stroke="#1f4a55" stroke-width="0.7"/>
<circle cx="96" cy="390.3" r="3.1" fill="#00eef0" stroke="#1f4a55" stroke-width="0.7"/>
<circle cx="112.5" cy="390.3" r="3.1" fill="#00eef0" stroke="#1f4a55" stroke-width="0.7"/>
<circle cx="129" cy="390.3" r="3.1" fill="#00eef0" stroke="#1f4a55" stroke-width="0.7"/>
<circle cx="162.5" cy="390.3" r="3.1" fill="#00eef0" stroke="#1f4a55" stroke-width="0.7"/>
<circle cx="195.5" cy="390.3" r="3.1" fill="#00eef0" stroke="#1f4a55" stroke-width="0.7"/>
<circle cx="228.5" cy="390.3" r="3.1" fill="#00eef0" stroke="#1f4a55" stroke-width="0.7"/>
<circle cx="314.5" cy="390.3" r="3.1" fill="#00eef0" stroke="#1f4a55" stroke-width="0.7"/>
<circle cx="331" cy="390.3" r="3.1" fill="#00eef0" stroke="#1f4a55" stroke-width="0.7"/>
<circle cx="347.5" cy="390.3" r="3.1" fill="#00eef0" stroke="#1f4a55" stroke-width="0.7"/>
<circle cx="381" cy="390.3" r="3.1" fill="#00eef0" stroke="#1f4a55" stroke-width="0.7"/>
<circle cx="414" cy="390.3" r="3.1" fill="#00eef0" stroke="#1f4a55" stroke-width="0.7"/>
<circle cx="447.3" cy="390.3" r="3.1" fill="#00eef0" stroke="#1f4a55" stroke-width="0.7"/>
<circle cx="288.5" cy="390.3" r="3.1" fill="#00eef0" stroke="#1f4a55" stroke-width="0.7"/>
<line x1="55.6" y1="286.2" x2="479.40000000000003" y2="286.2" stroke="#000" stroke-width="1.6" stroke-dasharray="3.6 3.95"/>
<line x1="56.4" y1="286.2" x2="56.4" y2="465.2" stroke="#000" stroke-width="1.6" stroke-dasharray="3.6 3.95" stroke-dashoffset="3.15"/>
<line x1="478.6" y1="286.2" x2="478.6" y2="465.2" stroke="#000" stroke-width="1.6" stroke-dasharray="3.6 3.95" stroke-dashoffset="3.85"/>
<line x1="55.6" x2="479.40000000000003" y1="465.34999999999997" y2="464.45" stroke="#000" stroke-width="1.5"/>
<line x1="95.8" x2="95.8" y1="465.2" y2="469.8" stroke="#222" stroke-width="0.8"/>
<text x="95.8" y="485.59999999999997" font-size="15" text-anchor="middle" font-family="'Liberation Serif', 'Times New Roman', serif" fill="#111">100</text>
<line x1="151" x2="151" y1="465.2" y2="469.8" stroke="#222" stroke-width="0.8"/>
<text x="151" y="485.59999999999997" font-size="15" text-anchor="middle" font-family="'Liberation Serif', 'Times New Roman', serif" fill="#111">200</text>
<line x1="206.2" x2="206.2" y1="465.2" y2="469.8" stroke="#222" stroke-width="0.8"/>
<text x="206.2" y="485.59999999999997" font-size="15" text-anchor="middle" font-family="'Liberation Serif', 'Times New Roman', serif" fill="#111">300</text>
<line x1="261.4" x2="261.4" y1="465.2" y2="469.8" stroke="#222" stroke-width="0.8"/>
<text x="261.4" y="485.59999999999997" font-size="15" text-anchor="middle" font-family="'Liberation Serif', 'Times New Roman', serif" fill="#111">400</text>
<line x1="316.6" x2="316.6" y1="465.2" y2="469.8" stroke="#222" stroke-width="0.8"/>
<text x="316.6" y="485.59999999999997" font-size="15" text-anchor="middle" font-family="'Liberation Serif', 'Times New Roman', serif" fill="#111">500</text>
<line x1="371.8" x2="371.8" y1="465.2" y2="469.8" stroke="#222" stroke-width="0.8"/>
<text x="371.8" y="485.59999999999997" font-size="15" text-anchor="middle" font-family="'Liberation Serif', 'Times New Roman', serif" fill="#111">600</text>
<line x1="427" x2="427" y1="465.2" y2="469.8" stroke="#222" stroke-width="0.8"/>
<text x="427" y="485.59999999999997" font-size="15" text-anchor="middle" font-family="'Liberation Serif', 'Times New Roman', serif" fill="#111">700</text>
<text x="182.5" y="507.2" font-size="16.8" textLength="159.6" lengthAdjust="spacingAndGlyphs" font-family="'Liberation Serif', 'Times New Roman', serif" fill="#111">Horizontal distance/mm</text>
<text x="250.09999999999997" y="543" font-size="21.5" textLength="24.6" lengthAdjust="spacingAndGlyphs" font-family="'Liberation Serif', 'Times New Roman', serif" fill="#111">(<tspan font-weight="bold">b</tspan>)</text>
<text x="123.5" y="307.40000000000003" font-size="16.8" textLength="111.9" lengthAdjust="spacingAndGlyphs" font-family="'Liberation Serif', 'Times New Roman', serif" fill="#111">Horizontal stress</text>
<text x="333" y="307.40000000000003" font-size="16.8" textLength="92.4" lengthAdjust="spacingAndGlyphs" font-family="'Liberation Serif', 'Times New Roman', serif" fill="#111">Vertical stress</text>
<text x="178.7" y="450.40000000000003" font-size="16.8" textLength="118.6" lengthAdjust="spacingAndGlyphs" font-family="'Liberation Serif', 'Times New Roman', serif" fill="#111">Loading direction</text>
<text x="405" y="459.6" font-size="16.8" textLength="58.5" lengthAdjust="spacingAndGlyphs" font-family="'Liberation Serif', 'Times New Roman', serif" fill="#111">unit: kPa</text>
<path d="M298.8,443.20 L324.8,443.20 L324.8,437.40 L338.3,445.30 L324.8,453.20 L324.8,447.40 L298.8,447.40 Z" fill="#000"/>
<line x1="94.8" x2="289" y1="416.6" y2="416.6" stroke="#8a8a8a" stroke-width="0.8"/>
<line x1="94.8" x2="94.8" y1="405.1" y2="428.1" stroke="#333" stroke-width="0.8"/>
<line x1="289" x2="289" y1="405.1" y2="428.1" stroke="#333" stroke-width="0.8"/>
<path d="M94.90,416.60 L100.70,414.05 L100.70,419.15 Z" fill="#000"/>
<path d="M112.70,416.60 L106.90,414.05 L106.90,419.15 Z" fill="#000"/>
<text x="103.8" y="413.40000000000003" font-size="12.7" text-anchor="middle" font-family="'Liberation Serif', 'Times New Roman', serif" fill="#111"><tspan font-style="italic">b</tspan></text>
<path d="M112.90,416.60 L118.70,414.05 L118.70,419.15 Z" fill="#000"/>
<path d="M130.30,416.60 L124.50,414.05 L124.50,419.15 Z" fill="#000"/>
<text x="121.6" y="413.40000000000003" font-size="12.7" text-anchor="middle" font-family="'Liberation Serif', 'Times New Roman', serif" fill="#111"><tspan font-style="italic">b</tspan></text>
<path d="M130.50,416.60 L136.30,414.05 L136.30,419.15 Z" fill="#000"/>
<path d="M162.50,416.60 L156.70,414.05 L156.70,419.15 Z" fill="#000"/>
<text x="146.5" y="413.40000000000003" font-size="12.7" text-anchor="middle" font-family="'Liberation Serif', 'Times New Roman', serif" fill="#111">2<tspan font-style="italic">b</tspan></text>
<path d="M162.70,416.60 L168.50,414.05 L168.50,419.15 Z" fill="#000"/>
<path d="M194.90,416.60 L189.10,414.05 L189.10,419.15 Z" fill="#000"/>
<text x="178.8" y="413.40000000000003" font-size="12.7" text-anchor="middle" font-family="'Liberation Serif', 'Times New Roman', serif" fill="#111">2<tspan font-style="italic">b</tspan></text>
<path d="M195.10,416.60 L200.90,414.05 L200.90,419.15 Z" fill="#000"/>
<path d="M226.70,416.60 L220.90,414.05 L220.90,419.15 Z" fill="#000"/>
<text x="210.9" y="413.40000000000003" font-size="12.7" text-anchor="middle" font-family="'Liberation Serif', 'Times New Roman', serif" fill="#111">2<tspan font-style="italic">b</tspan></text>
<path d="M226.90,416.60 L232.70,414.05 L232.70,419.15 Z" fill="#000"/>
<path d="M288.90,416.60 L283.10,414.05 L283.10,419.15 Z" fill="#000"/>
<text x="257.9" y="413.40000000000003" font-size="12.7" text-anchor="middle" font-family="'Liberation Serif', 'Times New Roman', serif" fill="#111">4<tspan font-style="italic">b</tspan></text>
<line x1="313.5" x2="446.8" y1="415.40000000000003" y2="415.40000000000003" stroke="#8a8a8a" stroke-width="0.8"/>
<line x1="313.5" x2="313.5" y1="403.90000000000003" y2="426.90000000000003" stroke="#333" stroke-width="0.8"/>
<line x1="446.8" x2="446.8" y1="403.90000000000003" y2="426.90000000000003" stroke="#333" stroke-width="0.8"/>
<path d="M313.60,415.40 L319.40,412.85 L319.40,417.95 Z" fill="#000"/>
<path d="M331.70,415.40 L325.90,412.85 L325.90,417.95 Z" fill="#000"/>
<text x="322.65" y="412.20000000000005" font-size="12.7" text-anchor="middle" font-family="'Liberation Serif', 'Times New Roman', serif" fill="#111"><tspan font-style="italic">b</tspan></text>
<path d="M331.90,415.40 L337.70,412.85 L337.70,417.95 Z" fill="#000"/>
<path d="M348.50,415.40 L342.70,412.85 L342.70,417.95 Z" fill="#000"/>
<text x="340.20000000000005" y="412.20000000000005" font-size="12.7" text-anchor="middle" font-family="'Liberation Serif', 'Times New Roman', serif" fill="#111"><tspan font-style="italic">b</tspan></text>
<path d="M348.70,415.40 L354.50,412.85 L354.50,417.95 Z" fill="#000"/>
<path d="M380.90,415.40 L375.10,412.85 L375.10,417.95 Z" fill="#000"/>
<text x="364.8" y="412.20000000000005" font-size="12.7" text-anchor="middle" font-family="'Liberation Serif', 'Times New Roman', serif" fill="#111">2<tspan font-style="italic">b</tspan></text>
<path d="M381.10,415.40 L386.90,412.85 L386.90,417.95 Z" fill="#000"/>
<path d="M414.10,415.40 L408.30,412.85 L408.30,417.95 Z" fill="#000"/>
<text x="397.6" y="412.20000000000005" font-size="12.7" text-anchor="middle" font-family="'Liberation Serif', 'Times New Roman', serif" fill="#111">2<tspan font-style="italic">b</tspan></text>
<path d="M414.30,415.40 L420.10,412.85 L420.10,417.95 Z" fill="#000"/>
<path d="M446.70,415.40 L440.90,412.85 L440.90,417.95 Z" fill="#000"/>
<text x="430.5" y="412.20000000000005" font-size="12.7" text-anchor="middle" font-family="'Liberation Serif', 'Times New Roman', serif" fill="#111">2<tspan font-style="italic">b</tspan></text>
<line x1="62" x2="62" y1="323.8" y2="397.9" stroke="#555" stroke-width="0.8"/>
<line x1="56.4" x2="69.5" y1="323.8" y2="323.8" stroke="#333" stroke-width="0.8"/>
<path d="M62.00,323.90 L59.45,329.70 L64.55,329.70 Z" fill="#000"/>
<path d="M62.00,357.10 L59.45,351.30 L64.55,351.30 Z" fill="#000"/>
<path d="M62.00,357.30 L59.45,363.10 L64.55,363.10 Z" fill="#000"/>
<path d="M62.00,379.30 L59.45,373.50 L64.55,373.50 Z" fill="#000"/>
<path d="M62.00,379.50 L59.45,385.30 L64.55,385.30 Z" fill="#000"/>
<path d="M62.00,397.80 L59.45,392.00 L64.55,392.00 Z" fill="#000"/>
<text x="64.6" y="345.2" font-size="12.7" textLength="11.6" lengthAdjust="spacingAndGlyphs" font-family="'Liberation Serif', 'Times New Roman', serif" fill="#111">2<tspan font-style="italic">b</tspan></text>
<text x="64.6" y="373.2" font-size="12.7" textLength="19.8" lengthAdjust="spacingAndGlyphs" font-family="'Liberation Serif', 'Times New Roman', serif" fill="#111">1.5<tspan font-style="italic">b</tspan></text>
<text x="67.0" y="391.6" font-size="12.7" font-family="'Liberation Serif', 'Times New Roman', serif" fill="#111"><tspan font-style="italic">b</tspan></text>
<path d="M77.8,393.5 L80.9,391.6 L81.3,394.2Z" fill="none" stroke="#9a9a9a" stroke-width="0.6"/>
<path d="M99.1,402.2 L103.3,402.1 L102.2,405.1Z" fill="none" stroke="#9a9a9a" stroke-width="0.6"/>
<path d="M234.5,402.2 L236.8,399.3 L238.2,401.7Z" fill="none" stroke="#9a9a9a" stroke-width="0.6"/>
<path d="M66.0,438.4 L65.1,433.9 L68.4,434.5Z" fill="none" stroke="#9a9a9a" stroke-width="0.6"/>
<path d="M67.0,441.3 L70.2,440.6 L69.8,443.0Z" fill="none" stroke="#9a9a9a" stroke-width="0.6"/>
<path d="M110.5,443.8 L106.8,443.2 L108.2,440.8Z" fill="none" stroke="#9a9a9a" stroke-width="0.6"/>
<path d="M98.2,457.6 L101.7,456.2 L101.7,459.0Z" fill="none" stroke="#9a9a9a" stroke-width="0.6"/>
<path d="M145.8,438.8 L149.6,438.7 L148.6,441.3Z" fill="none" stroke="#9a9a9a" stroke-width="0.6"/>
<path d="M151.7,447.4 L147.9,447.5 L148.9,444.9Z" fill="none" stroke="#9a9a9a" stroke-width="0.6"/>
<path d="M153.9,413.6 L157.3,410.5 L158.4,413.7Z" fill="none" stroke="#9a9a9a" stroke-width="0.6"/>
<path d="M213.7,421.6 L217.3,418.3 L218.6,421.8Z" fill="none" stroke="#9a9a9a" stroke-width="0.6"/>
<path d="M228.6,412.5 L225.8,410.3 L228.1,408.9Z" fill="none" stroke="#9a9a9a" stroke-width="0.6"/>
<path d="M276.4,429.6 L276.2,424.4 L279.9,425.7Z" fill="none" stroke="#9a9a9a" stroke-width="0.6"/>
<path d="M277.6,430.7 L277.1,434.3 L274.8,432.9Z" fill="none" stroke="#9a9a9a" stroke-width="0.6"/>
<path d="M274.4,457.7 L270.8,457.2 L272.2,454.9Z" fill="none" stroke="#9a9a9a" stroke-width="0.6"/>
<path d="M181.7,462.6 L184.4,461.5 L184.4,463.7Z" fill="none" stroke="#9a9a9a" stroke-width="0.6"/>
<path d="M241.5,401.9 L244.3,400.2 L244.7,402.6Z" fill="none" stroke="#9a9a9a" stroke-width="0.6"/>
<path d="M260.2,410.2 L259.7,407.6 L261.6,408.0Z" fill="none" stroke="#9a9a9a" stroke-width="0.6"/>
<path d="M305.5,419.6 L304.3,416.6 L306.7,416.6Z" fill="none" stroke="#9a9a9a" stroke-width="0.6"/>
<path d="M345.1,425.5 L342.1,425.1 L343.2,423.2Z" fill="none" stroke="#9a9a9a" stroke-width="0.6"/>
<path d="M357.4,429.3 L361.0,429.2 L360.1,431.8Z" fill="none" stroke="#9a9a9a" stroke-width="0.6"/>
<path d="M336.5,443.3 L338.5,439.5 L340.5,442.0Z" fill="none" stroke="#9a9a9a" stroke-width="0.6"/>
<path d="M309.6,450.3 L312.0,448.1 L312.9,450.4Z" fill="none" stroke="#9a9a9a" stroke-width="0.6"/>
<path d="M314.4,462.2 L310.8,461.7 L312.2,459.4Z" fill="none" stroke="#9a9a9a" stroke-width="0.6"/>
<path d="M355.1,463.5 L352.1,463.1 L353.2,461.2Z" fill="none" stroke="#9a9a9a" stroke-width="0.6"/>
<path d="M384.4,425.4 L387.1,422.9 L388.0,425.5Z" fill="none" stroke="#9a9a9a" stroke-width="0.6"/>
<path d="M396.5,451.2 L400.4,447.7 L401.7,451.4Z" fill="none" stroke="#9a9a9a" stroke-width="0.6"/>
<path d="M395.2,454.2 L392.3,454.3 L393.0,452.2Z" fill="none" stroke="#9a9a9a" stroke-width="0.6"/>
<path d="M428.1,430.0 L425.3,427.8 L427.6,426.4Z" fill="none" stroke="#9a9a9a" stroke-width="0.6"/>
<path d="M438.3,434.7 L441.8,434.0 L441.4,436.6Z" fill="none" stroke="#9a9a9a" stroke-width="0.6"/>
<path d="M468.5,434.8 L467.2,431.5 L469.8,431.5Z" fill="none" stroke="#9a9a9a" stroke-width="0.6"/>
<path d="M400.7,448.7 L397.6,450.6 L397.2,448.0Z" fill="none" stroke="#9a9a9a" stroke-width="0.6"/>
<path d="M472.8,456.6 L476.1,455.3 L476.1,457.9Z" fill="none" stroke="#9a9a9a" stroke-width="0.6"/>
<path d="M456.7,460.1 L461.2,459.2 L460.6,462.5Z" fill="none" stroke="#9a9a9a" stroke-width="0.6"/>
<path d="M322.7,415.0 L323.1,412.4 L324.8,413.4Z" fill="none" stroke="#9a9a9a" stroke-width="0.6"/>
<path d="M418.7,413.6 L416.2,412.8 L417.5,411.3Z" fill="none" stroke="#9a9a9a" stroke-width="0.6"/>
<rect x="5" y="464.02" width="18.6" height="8.08" fill="#0d52f7"/>
<rect x="5" y="456.23" width="18.6" height="8.08" fill="#1d5ff6"/>
<rect x="5" y="448.45" width="18.6" height="8.08" fill="#2f6df6"/>
<rect x="5" y="440.67" width="18.6" height="8.08" fill="#417af6"/>
<rect x="5" y="432.88" width="18.6" height="8.08" fill="#588af6"/>
<rect x="5" y="425.10" width="18.6" height="8.08" fill="#6f9af6"/>
<rect x="5" y="417.32" width="18.6" height="8.08" fill="#85aaf5"/>
<rect x="5" y="409.53" width="18.6" height="8.08" fill="#9ebcf2"/>
<rect x="5" y="401.75" width="18.6" height="8.08" fill="#b5cdeb"/>
<rect x="5" y="393.97" width="18.6" height="8.08" fill="#cbdde0"/>
<rect x="5" y="386.18" width="18.6" height="8.08" fill="#e1ebd2"/>
<rect x="5" y="378.40" width="18.6" height="8.08" fill="#f5f8d0"/>
<rect x="5" y="370.62" width="18.6" height="8.08" fill="#ffffbe"/>
<rect x="5" y="362.83" width="18.6" height="8.08" fill="#ffff9c"/>
<rect x="5" y="355.05" width="18.6" height="8.08" fill="#ffff72"/>
<rect x="5" y="347.27" width="18.6" height="8.08" fill="#ffff4c"/>
<rect x="5" y="339.48" width="18.6" height="8.08" fill="#ffff28"/>
<rect x="5" y="331.70" width="18.6" height="8.08" fill="#ffff05"/>
<rect x="5" y="323.92" width="18.6" height="8.08" fill="#ffd500"/>
<rect x="5" y="316.13" width="18.6" height="8.08" fill="#ffa700"/>
<rect x="5" y="308.35" width="18.6" height="8.08" fill="#ff7b00"/>
<rect x="5" y="300.57" width="18.6" height="8.08" fill="#ff4e00"/>
<rect x="5" y="292.78" width="18.6" height="8.08" fill="#ff2200"/>
<rect x="5" y="285.00" width="18.6" height="8.08" fill="#fd0000"/>
<line x1="5" x2="23.6" y1="464.02" y2="464.02" stroke="#9a9078" stroke-opacity="0.6" stroke-width="0.5"/>
<line x1="5" x2="23.6" y1="456.23" y2="456.23" stroke="#9a9078" stroke-opacity="0.6" stroke-width="0.5"/>
<line x1="5" x2="23.6" y1="448.45" y2="448.45" stroke="#9a9078" stroke-opacity="0.6" stroke-width="0.5"/>
<line x1="5" x2="23.6" y1="440.67" y2="440.67" stroke="#222" stroke-width="0.8"/>
<line x1="5" x2="23.6" y1="432.88" y2="432.88" stroke="#9a9078" stroke-opacity="0.6" stroke-width="0.5"/>
<line x1="5" x2="23.6" y1="425.10" y2="425.10" stroke="#9a9078" stroke-opacity="0.6" stroke-width="0.5"/>
<line x1="5" x2="23.6" y1="417.32" y2="417.32" stroke="#9a9078" stroke-opacity="0.6" stroke-width="0.5"/>
<line x1="5" x2="23.6" y1="409.53" y2="409.53" stroke="#222" stroke-width="0.8"/>
<line x1="5" x2="23.6" y1="401.75" y2="401.75" stroke="#9a9078" stroke-opacity="0.6" stroke-width="0.5"/>
<line x1="5" x2="23.6" y1="393.97" y2="393.97" stroke="#9a9078" stroke-opacity="0.6" stroke-width="0.5"/>
<line x1="5" x2="23.6" y1="386.18" y2="386.18" stroke="#9a9078" stroke-opacity="0.6" stroke-width="0.5"/>
<line x1="5" x2="23.6" y1="378.40" y2="378.40" stroke="#222" stroke-width="0.8"/>
<line x1="5" x2="23.6" y1="370.62" y2="370.62" stroke="#9a9078" stroke-opacity="0.6" stroke-width="0.5"/>
<line x1="5" x2="23.6" y1="362.83" y2="362.83" stroke="#9a9078" stroke-opacity="0.6" stroke-width="0.5"/>
<line x1="5" x2="23.6" y1="355.05" y2="355.05" stroke="#9a9078" stroke-opacity="0.6" stroke-width="0.5"/>
<line x1="5" x2="23.6" y1="347.27" y2="347.27" stroke="#222" stroke-width="0.8"/>
<line x1="5" x2="23.6" y1="339.48" y2="339.48" stroke="#9a9078" stroke-opacity="0.6" stroke-width="0.5"/>
<line x1="5" x2="23.6" y1="331.70" y2="331.70" stroke="#9a9078" stroke-opacity="0.6" stroke-width="0.5"/>
<line x1="5" x2="23.6" y1="323.92" y2="323.92" stroke="#9a9078" stroke-opacity="0.6" stroke-width="0.5"/>
<line x1="5" x2="23.6" y1="316.13" y2="316.13" stroke="#222" stroke-width="0.8"/>
<line x1="5" x2="23.6" y1="308.35" y2="308.35" stroke="#9a9078" stroke-opacity="0.6" stroke-width="0.5"/>
<line x1="5" x2="23.6" y1="300.57" y2="300.57" stroke="#9a9078" stroke-opacity="0.6" stroke-width="0.5"/>
<line x1="5" x2="23.6" y1="292.78" y2="292.78" stroke="#9a9078" stroke-opacity="0.6" stroke-width="0.5"/>
<text x="27" y="312.44" font-size="12.2" font-family="'Liberation Serif', 'Times New Roman', serif" fill="#111">400</text>
<text x="27" y="335.79" font-size="12.2" font-family="'Liberation Serif', 'Times New Roman', serif" fill="#111">340</text>
<text x="27" y="359.14" font-size="12.2" font-family="'Liberation Serif', 'Times New Roman', serif" fill="#111">280</text>
<text x="27" y="382.49" font-size="12.2" font-family="'Liberation Serif', 'Times New Roman', serif" fill="#111">220</text>
<text x="27" y="405.84" font-size="12.2" font-family="'Liberation Serif', 'Times New Roman', serif" fill="#111">160</text>
<text x="27" y="429.19" font-size="12.2" font-family="'Liberation Serif', 'Times New Roman', serif" fill="#111">100</text>
<text x="27" y="452.54" font-size="12.2" font-family="'Liberation Serif', 'Times New Roman', serif" fill="#111">40</text>
<text x="27.2" y="476.2" font-size="12.2" font-family="'Liberation Serif', 'Times New Roman', serif" fill="#111">-20</text>
<rect x="485.6" y="463.87" width="18.799999999999955" height="8.43" fill="#0d52f7"/>
<rect x="485.6" y="455.74" width="18.799999999999955" height="8.43" fill="#1e60f6"/>
<rect x="485.6" y="447.61" width="18.799999999999955" height="8.43" fill="#316ef6"/>
<rect x="485.6" y="439.48" width="18.799999999999955" height="8.43" fill="#447cf6"/>
<rect x="485.6" y="431.35" width="18.799999999999955" height="8.43" fill="#5c8ef6"/>
<rect x="485.6" y="423.22" width="18.799999999999955" height="8.43" fill="#749ef5"/>
<rect x="485.6" y="415.09" width="18.799999999999955" height="8.43" fill="#8daff4"/>
<rect x="485.6" y="406.96" width="18.799999999999955" height="8.43" fill="#a6c1f0"/>
<rect x="485.6" y="398.83" width="18.799999999999955" height="8.43" fill="#bdd3e8"/>
<rect x="485.6" y="390.70" width="18.799999999999955" height="8.43" fill="#d4e3da"/>
<rect x="485.6" y="382.57" width="18.799999999999955" height="8.43" fill="#eaf1d0"/>
<rect x="485.6" y="374.43" width="18.799999999999955" height="8.43" fill="#ffffcf"/>
<rect x="485.6" y="366.30" width="18.799999999999955" height="8.43" fill="#ffffac"/>
<rect x="485.6" y="358.17" width="18.799999999999955" height="8.43" fill="#ffff84"/>
<rect x="485.6" y="350.04" width="18.799999999999955" height="8.43" fill="#ffff59"/>
<rect x="485.6" y="341.91" width="18.799999999999955" height="8.43" fill="#ffff34"/>
<rect x="485.6" y="333.78" width="18.799999999999955" height="8.43" fill="#ffff0f"/>
<rect x="485.6" y="325.65" width="18.799999999999955" height="8.43" fill="#ffe000"/>
<rect x="485.6" y="317.52" width="18.799999999999955" height="8.43" fill="#ffaf00"/>
<rect x="485.6" y="309.39" width="18.799999999999955" height="8.43" fill="#ff8200"/>
<rect x="485.6" y="301.26" width="18.799999999999955" height="8.43" fill="#ff5300"/>
<rect x="485.6" y="293.13" width="18.799999999999955" height="8.43" fill="#ff2400"/>
<rect x="485.6" y="285.00" width="18.799999999999955" height="8.43" fill="#fe0000"/>
<line x1="485.6" x2="504.4" y1="463.87" y2="463.87" stroke="#9a9078" stroke-opacity="0.6" stroke-width="0.5"/>
<line x1="485.6" x2="504.4" y1="455.74" y2="455.74" stroke="#9a9078" stroke-opacity="0.6" stroke-width="0.5"/>
<line x1="485.6" x2="504.4" y1="447.61" y2="447.61" stroke="#9a9078" stroke-opacity="0.6" stroke-width="0.5"/>
<line x1="485.6" x2="504.4" y1="439.48" y2="439.48" stroke="#222" stroke-width="0.8"/>
<line x1="485.6" x2="504.4" y1="431.35" y2="431.35" stroke="#9a9078" stroke-opacity="0.6" stroke-width="0.5"/>
<line x1="485.6" x2="504.4" y1="423.22" y2="423.22" stroke="#9a9078" stroke-opacity="0.6" stroke-width="0.5"/>
<line x1="485.6" x2="504.4" y1="415.09" y2="415.09" stroke="#9a9078" stroke-opacity="0.6" stroke-width="0.5"/>
<line x1="485.6" x2="504.4" y1="406.96" y2="406.96" stroke="#222" stroke-width="0.8"/>
<line x1="485.6" x2="504.4" y1="398.83" y2="398.83" stroke="#9a9078" stroke-opacity="0.6" stroke-width="0.5"/>
<line x1="485.6" x2="504.4" y1="390.70" y2="390.70" stroke="#9a9078" stroke-opacity="0.6" stroke-width="0.5"/>
<line x1="485.6" x2="504.4" y1="382.57" y2="382.57" stroke="#9a9078" stroke-opacity="0.6" stroke-width="0.5"/>
<line x1="485.6" x2="504.4" y1="374.43" y2="374.43" stroke="#222" stroke-width="0.8"/>
<line x1="485.6" x2="504.4" y1="366.30" y2="366.30" stroke="#9a9078" stroke-opacity="0.6" stroke-width="0.5"/>
<line x1="485.6" x2="504.4" y1="358.17" y2="358.17" stroke="#9a9078" stroke-opacity="0.6" stroke-width="0.5"/>
<line x1="485.6" x2="504.4" y1="350.04" y2="350.04" stroke="#9a9078" stroke-opacity="0.6" stroke-width="0.5"/>
<line x1="485.6" x2="504.4" y1="341.91" y2="341.91" stroke="#222" stroke-width="0.8"/>
<line x1="485.6" x2="504.4" y1="333.78" y2="333.78" stroke="#9a9078" stroke-opacity="0.6" stroke-width="0.5"/>
<line x1="485.6" x2="504.4" y1="325.65" y2="325.65" stroke="#9a9078" stroke-opacity="0.6" stroke-width="0.5"/>
<line x1="485.6" x2="504.4" y1="317.52" y2="317.52" stroke="#9a9078" stroke-opacity="0.6" stroke-width="0.5"/>
<line x1="485.6" x2="504.4" y1="309.39" y2="309.39" stroke="#222" stroke-width="0.8"/>
<line x1="485.6" x2="504.4" y1="301.26" y2="301.26" stroke="#9a9078" stroke-opacity="0.6" stroke-width="0.5"/>
<line x1="485.6" x2="504.4" y1="293.13" y2="293.13" stroke="#9a9078" stroke-opacity="0.6" stroke-width="0.5"/>
<text x="508" y="297.22" font-size="12.2" font-family="'Liberation Serif', 'Times New Roman', serif" fill="#111">210</text>
<text x="508" y="313.48" font-size="12.2" font-family="'Liberation Serif', 'Times New Roman', serif" fill="#111">190</text>
<text x="508" y="329.74" font-size="12.2" font-family="'Liberation Serif', 'Times New Roman', serif" fill="#111">170</text>
<text x="508" y="346.00" font-size="12.2" font-family="'Liberation Serif', 'Times New Roman', serif" fill="#111">150</text>
<text x="508" y="362.26" font-size="12.2" font-family="'Liberation Serif', 'Times New Roman', serif" fill="#111">130</text>
<text x="508" y="378.52" font-size="12.2" font-family="'Liberation Serif', 'Times New Roman', serif" fill="#111">110</text>
<text x="508" y="394.78" font-size="12.2" font-family="'Liberation Serif', 'Times New Roman', serif" fill="#111">90</text>
<text x="508" y="411.04" font-size="12.2" font-family="'Liberation Serif', 'Times New Roman', serif" fill="#111">70</text>
<text x="508" y="427.30" font-size="12.2" font-family="'Liberation Serif', 'Times New Roman', serif" fill="#111">50</text>
<text x="508" y="443.57" font-size="12.2" font-family="'Liberation Serif', 'Times New Roman', serif" fill="#111">30</text>
<text x="508" y="459.83" font-size="12.2" font-family="'Liberation Serif', 'Times New Roman', serif" fill="#111">10</text>
<text x="507.6" y="476.2" font-size="12.2" font-family="'Liberation Serif', 'Times New Roman', serif" fill="#111">-10</text>
</svg>
</body></html>
